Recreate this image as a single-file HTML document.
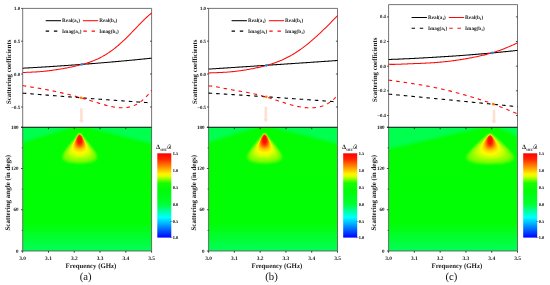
<!DOCTYPE html>
<html lang="en"><head><meta charset="utf-8"><title>Scattering coefficients and spin Hall shift</title>
<style>html,body{margin:0;padding:0;background:#fff}svg{display:block}text{font-family:"Liberation Serif", serif;text-rendering:geometricPrecision}</style></head><body>
<svg width="550" height="285" viewBox="0 0 550 285">
<defs>
<linearGradient id="cb" x1="0" y1="0" x2="0" y2="1"><stop offset="0" stop-color="#ff0000"/><stop offset="0.07" stop-color="#ff2400"/><stop offset="0.15" stop-color="#ff8000"/><stop offset="0.245" stop-color="#fff400"/><stop offset="0.275" stop-color="#dcff00"/><stop offset="0.355" stop-color="#14ff00"/><stop offset="0.45" stop-color="#00fb0a"/><stop offset="0.60" stop-color="#00ff30"/><stop offset="0.76" stop-color="#00ffff"/><stop offset="1" stop-color="#0000ff"/></linearGradient>
<linearGradient id="bg" x1="0" y1="0" x2="0" y2="1"><stop offset="0" stop-color="#03fe02"/><stop offset="0.77" stop-color="#02fe04"/><stop offset="1" stop-color="#00ff58"/></linearGradient>
<filter id="bl2" x="-20%" y="-20%" width="140%" height="140%"><feGaussianBlur stdDeviation="1.1"/></filter>
<filter id="bl3" x="-20%" y="-50%" width="140%" height="200%"><feGaussianBlur stdDeviation="1.7"/></filter>
<filter id="bl" x="-20%" y="-20%" width="140%" height="140%"><feGaussianBlur stdDeviation="0.55"/></filter>
</defs>
<rect width="550" height="285" fill="#fff"/>
<g>
<rect x="22.70" y="127.25" width="128.90" height="123.75" fill="url(#bg)"/>
<clipPath id="cp0"><rect x="22.70" y="127.25" width="128.90" height="123.75"/></clipPath>
<g clip-path="url(#cp0)">
<g filter="url(#bl3)" fill="#00ff58" opacity="0.9"><polygon points="16.7,123.2 72.7,123.2 70.7,127.8 16.7,144.2"/><polygon points="86.7,123.2 157.6,123.2 157.6,145.2 88.7,127.8"/></g>
<g filter="url(#bl)">
<polygon fill="rgb(78,254,3)" filter="url(#bl2)" points="79.7,133.1 78.6,134.8 77.3,136.4 76.0,138.0 74.8,139.6 73.5,141.1 72.2,142.6 71.0,144.1 69.8,145.6 68.6,147.0 67.5,148.3 66.4,149.6 65.4,150.9 64.4,152.1 63.6,153.3 63.0,154.5 62.5,155.6 62.2,156.6 62.1,157.6 62.3,158.6 62.8,159.5 63.6,160.3 64.8,161.1 66.4,161.8 68.4,162.4 71.0,162.9 74.4,163.3 79.7,163.5 85.0,163.3 88.4,162.9 91.0,162.4 93.0,161.8 94.6,161.1 95.8,160.3 96.6,159.5 97.1,158.6 97.3,157.6 97.2,156.6 96.9,155.6 96.4,154.5 95.8,153.3 95.0,152.1 94.0,150.9 93.0,149.6 91.9,148.3 90.8,147.0 89.6,145.6 88.4,144.1 87.2,142.6 85.9,141.1 84.6,139.6 83.4,138.0 82.1,136.4 80.8,134.8"/>
<polygon fill="rgb(117,254,4)" filter="url(#bl2)" points="79.7,133.2 78.6,134.8 77.4,136.4 76.2,137.9 75.0,139.4 73.8,140.9 72.7,142.3 71.5,143.7 70.4,145.1 69.3,146.4 68.3,147.7 67.3,149.0 66.4,150.2 65.6,151.4 64.9,152.5 64.3,153.6 63.9,154.6 63.7,155.7 63.6,156.6 63.9,157.5 64.3,158.4 65.1,159.1 66.2,159.9 67.7,160.5 69.6,161.1 71.9,161.6 74.9,162.0 79.7,162.2 84.5,162.0 87.5,161.6 89.8,161.1 91.7,160.5 93.2,159.9 94.3,159.1 95.1,158.4 95.5,157.5 95.8,156.6 95.7,155.7 95.5,154.6 95.1,153.6 94.5,152.5 93.8,151.4 93.0,150.2 92.1,149.0 91.1,147.7 90.1,146.4 89.0,145.1 87.9,143.7 86.7,142.3 85.6,140.9 84.4,139.4 83.2,137.9 82.0,136.4 80.8,134.8"/>
<polygon fill="rgb(141,254,3)" filter="url(#bl2)" points="79.7,133.3 78.6,134.8 77.5,136.3 76.4,137.8 75.3,139.2 74.2,140.6 73.1,142.0 72.1,143.3 71.0,144.6 70.1,145.9 69.1,147.1 68.3,148.3 67.5,149.5 66.8,150.6 66.2,151.7 65.7,152.7 65.3,153.7 65.2,154.7 65.2,155.6 65.4,156.4 65.9,157.2 66.6,158.0 67.7,158.7 69.0,159.3 70.7,159.8 72.8,160.3 75.5,160.7 79.7,160.9 83.9,160.7 86.6,160.3 88.7,159.8 90.4,159.3 91.7,158.7 92.8,158.0 93.5,157.2 94.0,156.4 94.2,155.6 94.2,154.7 94.1,153.7 93.7,152.7 93.2,151.7 92.6,150.6 91.9,149.5 91.1,148.3 90.3,147.1 89.3,145.9 88.4,144.6 87.3,143.3 86.3,142.0 85.2,140.6 84.1,139.2 83.0,137.8 81.9,136.3 80.8,134.8"/>
<polygon fill="rgb(165,255,2)" filter="url(#bl2)" points="79.7,133.4 78.7,134.9 77.6,136.3 76.6,137.7 75.6,139.0 74.6,140.3 73.6,141.6 72.7,142.9 71.7,144.1 70.9,145.3 70.0,146.5 69.3,147.6 68.6,148.7 68.0,149.8 67.5,150.8 67.1,151.8 66.8,152.8 66.7,153.7 66.8,154.5 67.0,155.3 67.5,156.1 68.1,156.8 69.1,157.5 70.3,158.0 71.8,158.6 73.7,159.0 76.0,159.3 79.7,159.5 83.4,159.3 85.7,159.0 87.6,158.6 89.1,158.0 90.3,157.5 91.3,156.8 91.9,156.1 92.4,155.3 92.6,154.5 92.7,153.7 92.6,152.8 92.3,151.8 91.9,150.8 91.4,149.8 90.8,148.7 90.1,147.6 89.4,146.5 88.5,145.3 87.7,144.1 86.7,142.9 85.8,141.6 84.8,140.3 83.8,139.0 82.8,137.7 81.8,136.3 80.7,134.9"/>
<polygon fill="rgb(189,255,1)" points="79.7,133.6 78.7,134.9 77.7,136.3 76.8,137.6 75.9,138.8 75.0,140.1 74.1,141.3 73.3,142.5 72.5,143.7 71.7,144.8 71.0,145.9 70.3,147.0 69.7,148.0 69.2,149.0 68.8,150.0 68.5,150.9 68.3,151.8 68.2,152.7 68.3,153.5 68.6,154.2 69.0,155.0 69.6,155.6 70.5,156.2 71.5,156.8 72.8,157.3 74.5,157.7 76.5,158.0 79.7,158.2 82.9,158.0 84.9,157.7 86.6,157.3 87.9,156.8 88.9,156.2 89.8,155.6 90.4,155.0 90.8,154.2 91.1,153.5 91.2,152.7 91.1,151.8 90.9,150.9 90.6,150.0 90.2,149.0 89.7,148.0 89.1,147.0 88.4,145.9 87.7,144.8 86.9,143.7 86.1,142.5 85.3,141.3 84.4,140.1 83.5,138.8 82.6,137.6 81.7,136.3 80.7,134.9"/>
<polygon fill="rgb(213,255,0)" points="79.7,133.7 78.8,135.0 77.9,136.2 77.1,137.4 76.2,138.6 75.4,139.8 74.7,141.0 73.9,142.1 73.2,143.2 72.6,144.3 72.0,145.3 71.4,146.3 70.9,147.3 70.5,148.2 70.2,149.1 69.9,150.0 69.8,150.9 69.8,151.7 69.9,152.4 70.1,153.1 70.5,153.8 71.1,154.5 71.8,155.0 72.7,155.6 73.9,156.0 75.3,156.4 77.0,156.7 79.7,156.9 82.4,156.7 84.1,156.4 85.5,156.0 86.7,155.6 87.6,155.0 88.3,154.5 88.9,153.8 89.3,153.1 89.5,152.4 89.6,151.7 89.6,150.9 89.5,150.0 89.2,149.1 88.9,148.2 88.5,147.3 88.0,146.3 87.4,145.3 86.8,144.3 86.2,143.2 85.5,142.1 84.7,141.0 84.0,139.8 83.2,138.6 82.3,137.4 81.5,136.2 80.6,135.0"/>
<polygon fill="rgb(226,254,0)" points="79.7,133.8 78.9,135.0 78.1,136.2 77.3,137.3 76.6,138.4 75.9,139.6 75.3,140.6 74.7,141.7 74.1,142.7 73.5,143.7 73.0,144.7 72.6,145.6 72.2,146.6 71.8,147.4 71.6,148.3 71.4,149.1 71.3,149.9 71.3,150.7 71.4,151.4 71.7,152.1 72.0,152.7 72.5,153.3 73.1,153.8 73.9,154.3 74.9,154.8 76.0,155.1 77.5,155.4 79.7,155.6 81.9,155.4 83.4,155.1 84.5,154.8 85.5,154.3 86.3,153.8 86.9,153.3 87.4,152.7 87.7,152.1 88.0,151.4 88.1,150.7 88.1,149.9 88.0,149.1 87.8,148.3 87.6,147.4 87.2,146.6 86.8,145.6 86.4,144.7 85.9,143.7 85.3,142.7 84.7,141.7 84.1,140.6 83.5,139.6 82.8,138.4 82.1,137.3 81.3,136.2 80.5,135.0"/>
<polygon fill="rgb(238,252,0)" points="79.7,133.9 78.8,135.0 78.1,136.1 77.4,137.2 76.7,138.3 76.0,139.4 75.4,140.4 74.8,141.4 74.3,142.4 73.8,143.4 73.3,144.3 72.9,145.2 72.5,146.1 72.2,146.9 72.0,147.8 71.9,148.5 71.8,149.3 71.8,150.0 72.0,150.7 72.2,151.4 72.5,152.0 73.0,152.5 73.6,153.1 74.3,153.5 75.2,154.0 76.3,154.3 77.6,154.6 79.7,154.7 81.8,154.6 83.1,154.3 84.2,154.0 85.1,153.5 85.8,153.1 86.4,152.5 86.9,152.0 87.2,151.4 87.4,150.7 87.6,150.0 87.6,149.3 87.5,148.5 87.4,147.8 87.2,146.9 86.9,146.1 86.5,145.2 86.1,144.3 85.6,143.4 85.1,142.4 84.6,141.4 84.0,140.4 83.4,139.4 82.7,138.3 82.0,137.2 81.3,136.1 80.6,135.0"/>
<polygon fill="rgb(249,251,0)" points="79.7,133.9 78.8,135.0 78.1,136.1 77.4,137.2 76.7,138.2 76.1,139.2 75.5,140.2 74.9,141.2 74.4,142.1 73.9,143.0 73.5,143.9 73.1,144.8 72.8,145.6 72.6,146.5 72.4,147.2 72.2,148.0 72.2,148.7 72.3,149.4 72.4,150.1 72.6,150.7 73.0,151.3 73.4,151.8 74.0,152.3 74.7,152.8 75.5,153.2 76.5,153.5 77.8,153.8 79.7,153.9 81.6,153.8 82.9,153.5 83.9,153.2 84.7,152.8 85.4,152.3 86.0,151.8 86.4,151.3 86.8,150.7 87.0,150.1 87.1,149.4 87.2,148.7 87.2,148.0 87.0,147.2 86.8,146.5 86.6,145.6 86.3,144.8 85.9,143.9 85.5,143.0 85.0,142.1 84.5,141.2 83.9,140.2 83.3,139.2 82.7,138.2 82.0,137.2 81.3,136.1 80.6,135.0"/>
<polygon fill="rgb(255,244,0)" points="79.7,134.0 78.8,135.1 78.1,136.1 77.4,137.1 76.8,138.1 76.2,139.1 75.6,140.0 75.1,140.9 74.6,141.8 74.2,142.7 73.8,143.6 73.4,144.4 73.1,145.2 72.9,146.0 72.7,146.7 72.6,147.4 72.6,148.1 72.7,148.8 72.8,149.4 73.1,150.0 73.4,150.6 73.8,151.1 74.4,151.6 75.0,152.0 75.8,152.4 76.8,152.7 77.9,153.0 79.7,153.1 81.5,153.0 82.6,152.7 83.6,152.4 84.4,152.0 85.0,151.6 85.6,151.1 86.0,150.6 86.3,150.0 86.6,149.4 86.7,148.8 86.8,148.1 86.8,147.4 86.7,146.7 86.5,146.0 86.3,145.2 86.0,144.4 85.6,143.6 85.2,142.7 84.8,141.8 84.3,140.9 83.8,140.0 83.2,139.1 82.6,138.1 82.0,137.1 81.3,136.1 80.6,135.1"/>
<polygon fill="rgb(255,232,0)" points="79.7,134.1 78.8,135.1 78.1,136.1 77.4,137.0 76.8,138.0 76.3,138.9 75.7,139.8 75.2,140.7 74.8,141.5 74.4,142.4 74.0,143.2 73.7,144.0 73.4,144.7 73.2,145.5 73.1,146.2 73.0,146.9 73.0,147.6 73.1,148.2 73.3,148.8 73.5,149.4 73.8,149.9 74.2,150.4 74.8,150.8 75.4,151.3 76.1,151.6 77.0,151.9 78.1,152.2 79.7,152.3 81.3,152.2 82.4,151.9 83.3,151.6 84.0,151.3 84.6,150.8 85.2,150.4 85.6,149.9 85.9,149.4 86.1,148.8 86.3,148.2 86.4,147.6 86.4,146.9 86.3,146.2 86.2,145.5 86.0,144.7 85.7,144.0 85.4,143.2 85.0,142.4 84.6,141.5 84.2,140.7 83.7,139.8 83.1,138.9 82.6,138.0 82.0,137.0 81.3,136.1 80.6,135.1"/>
<polygon fill="rgb(255,221,0)" points="79.7,134.1 78.8,135.1 78.1,136.0 77.5,136.9 76.9,137.8 76.3,138.7 75.8,139.6 75.4,140.4 75.0,141.2 74.6,142.0 74.3,142.8 74.0,143.6 73.8,144.3 73.6,145.0 73.5,145.7 73.4,146.3 73.5,147.0 73.6,147.6 73.7,148.1 73.9,148.7 74.3,149.2 74.7,149.7 75.1,150.1 75.7,150.5 76.4,150.8 77.2,151.1 78.2,151.4 79.7,151.5 81.2,151.4 82.2,151.1 83.0,150.8 83.7,150.5 84.3,150.1 84.7,149.7 85.1,149.2 85.5,148.7 85.7,148.1 85.8,147.6 85.9,147.0 86.0,146.3 85.9,145.7 85.8,145.0 85.6,144.3 85.4,143.6 85.1,142.8 84.8,142.0 84.4,141.2 84.0,140.4 83.6,139.6 83.1,138.7 82.5,137.8 81.9,136.9 81.3,136.0 80.6,135.1"/>
<polygon fill="rgb(255,210,0)" points="79.7,134.2 78.8,135.1 78.1,136.0 77.5,136.9 77.0,137.7 76.4,138.6 76.0,139.4 75.6,140.2 75.2,141.0 74.8,141.7 74.5,142.4 74.3,143.2 74.1,143.9 74.0,144.5 73.9,145.2 73.9,145.8 73.9,146.4 74.0,147.0 74.2,147.5 74.4,148.0 74.7,148.5 75.1,148.9 75.5,149.4 76.0,149.7 76.7,150.1 77.4,150.3 78.3,150.6 79.7,150.7 81.1,150.6 82.0,150.3 82.7,150.1 83.4,149.7 83.9,149.4 84.3,148.9 84.7,148.5 85.0,148.0 85.2,147.5 85.4,147.0 85.5,146.4 85.5,145.8 85.5,145.2 85.4,144.5 85.3,143.9 85.1,143.2 84.9,142.4 84.6,141.7 84.2,141.0 83.8,140.2 83.4,139.4 83.0,138.6 82.4,137.7 81.9,136.9 81.3,136.0 80.6,135.1"/>
<polygon fill="rgb(255,197,0)" points="79.7,134.3 78.8,135.1 78.1,136.0 77.6,136.8 77.0,137.6 76.6,138.4 76.1,139.2 75.7,139.9 75.4,140.7 75.1,141.4 74.8,142.1 74.6,142.8 74.4,143.4 74.3,144.0 74.3,144.7 74.3,145.2 74.3,145.8 74.4,146.3 74.6,146.9 74.8,147.3 75.1,147.8 75.4,148.2 75.9,148.6 76.4,149.0 76.9,149.3 77.6,149.5 78.4,149.7 79.7,149.9 81.0,149.7 81.8,149.5 82.5,149.3 83.0,149.0 83.5,148.6 84.0,148.2 84.3,147.8 84.6,147.3 84.8,146.9 85.0,146.3 85.1,145.8 85.1,145.2 85.1,144.7 85.1,144.0 85.0,143.4 84.8,142.8 84.6,142.1 84.3,141.4 84.0,140.7 83.7,139.9 83.3,139.2 82.8,138.4 82.4,137.6 81.8,136.8 81.3,136.0 80.6,135.1"/>
<polygon fill="rgb(255,176,0)" points="79.7,134.4 78.8,135.2 78.2,136.0 77.6,136.8 77.1,137.5 76.7,138.3 76.3,139.0 75.9,139.7 75.6,140.4 75.3,141.1 75.1,141.7 74.9,142.4 74.8,143.0 74.7,143.6 74.7,144.2 74.7,144.7 74.7,145.3 74.8,145.8 75.0,146.3 75.2,146.7 75.5,147.2 75.8,147.6 76.2,147.9 76.7,148.3 77.2,148.6 77.8,148.8 78.6,149.0 79.7,149.1 80.8,149.0 81.6,148.8 82.2,148.6 82.7,148.3 83.2,147.9 83.6,147.6 83.9,147.2 84.2,146.7 84.4,146.3 84.6,145.8 84.7,145.3 84.7,144.7 84.7,144.2 84.7,143.6 84.6,143.0 84.5,142.4 84.3,141.7 84.1,141.1 83.8,140.4 83.5,139.7 83.1,139.0 82.7,138.3 82.3,137.5 81.8,136.8 81.2,136.0 80.6,135.2"/>
<polygon fill="rgb(255,155,0)" points="79.7,134.4 78.8,135.2 78.2,136.0 77.7,136.7 77.2,137.4 76.8,138.1 76.4,138.8 76.1,139.5 75.8,140.2 75.6,140.8 75.4,141.4 75.3,142.0 75.1,142.6 75.1,143.2 75.0,143.7 75.1,144.3 75.1,144.8 75.2,145.3 75.4,145.7 75.6,146.2 75.9,146.6 76.2,146.9 76.5,147.3 76.9,147.6 77.4,147.9 78.0,148.1 78.7,148.3 79.7,148.4 80.7,148.3 81.4,148.1 82.0,147.9 82.5,147.6 82.9,147.3 83.2,146.9 83.5,146.6 83.8,146.2 84.0,145.7 84.2,145.3 84.3,144.8 84.3,144.3 84.4,143.7 84.3,143.2 84.3,142.6 84.1,142.0 84.0,141.4 83.8,140.8 83.6,140.2 83.3,139.5 83.0,138.8 82.6,138.1 82.2,137.4 81.7,136.7 81.2,136.0 80.6,135.2"/>
<polygon fill="rgb(255,135,0)" points="79.7,134.5 78.8,135.3 78.2,136.0 77.7,136.7 77.3,137.4 76.9,138.0 76.6,138.7 76.3,139.3 76.1,139.9 75.9,140.5 75.7,141.1 75.6,141.7 75.5,142.2 75.4,142.8 75.4,143.3 75.5,143.8 75.5,144.3 75.6,144.7 75.8,145.2 76.0,145.6 76.2,146.0 76.5,146.3 76.8,146.7 77.2,146.9 77.7,147.2 78.2,147.4 78.8,147.6 79.7,147.7 80.6,147.6 81.2,147.4 81.7,147.2 82.2,146.9 82.6,146.7 82.9,146.3 83.2,146.0 83.4,145.6 83.6,145.2 83.8,144.7 83.9,144.3 83.9,143.8 84.0,143.3 84.0,142.8 83.9,142.2 83.8,141.7 83.7,141.1 83.5,140.5 83.3,139.9 83.1,139.3 82.8,138.7 82.5,138.0 82.1,137.4 81.7,136.7 81.2,136.0 80.6,135.3"/>
<polygon fill="rgb(255,113,0)" points="79.7,134.6 78.8,135.3 78.3,136.0 77.8,136.6 77.4,137.3 77.1,137.9 76.8,138.5 76.6,139.1 76.3,139.7 76.2,140.3 76.0,140.8 75.9,141.4 75.8,141.9 75.8,142.4 75.8,142.9 75.9,143.3 75.9,143.8 76.0,144.2 76.2,144.6 76.4,145.0 76.6,145.4 76.8,145.7 77.1,146.0 77.5,146.3 77.9,146.5 78.3,146.7 78.9,146.9 79.7,147.0 80.5,146.9 81.1,146.7 81.5,146.5 81.9,146.3 82.3,146.0 82.6,145.7 82.8,145.4 83.0,145.0 83.2,144.6 83.4,144.2 83.5,143.8 83.5,143.3 83.6,142.9 83.6,142.4 83.6,141.9 83.5,141.4 83.4,140.8 83.2,140.3 83.1,139.7 82.8,139.1 82.6,138.5 82.3,137.9 82.0,137.3 81.6,136.6 81.1,136.0 80.6,135.3"/>
<polygon fill="rgb(255,91,0)" points="79.7,134.7 78.8,135.4 78.3,136.0 77.9,136.6 77.6,137.2 77.3,137.8 77.0,138.3 76.8,138.9 76.6,139.5 76.5,140.0 76.4,140.5 76.3,141.0 76.2,141.5 76.2,142.0 76.2,142.4 76.2,142.9 76.3,143.3 76.4,143.7 76.6,144.1 76.7,144.4 76.9,144.8 77.2,145.1 77.4,145.4 77.7,145.6 78.1,145.9 78.5,146.1 79.0,146.2 79.7,146.3 80.4,146.2 80.9,146.1 81.3,145.9 81.7,145.6 82.0,145.4 82.2,145.1 82.5,144.8 82.7,144.4 82.8,144.1 83.0,143.7 83.1,143.3 83.2,142.9 83.2,142.4 83.2,142.0 83.2,141.5 83.1,141.0 83.0,140.5 82.9,140.0 82.8,139.5 82.6,138.9 82.4,138.3 82.1,137.8 81.8,137.2 81.5,136.6 81.1,136.0 80.6,135.4"/>
<polygon fill="rgb(255,69,0)" points="79.7,134.8 78.9,135.4 78.4,136.0 78.0,136.5 77.7,137.1 77.5,137.7 77.2,138.2 77.1,138.7 76.9,139.2 76.8,139.7 76.7,140.2 76.6,140.7 76.6,141.1 76.6,141.6 76.6,142.0 76.6,142.4 76.7,142.8 76.8,143.1 76.9,143.5 77.1,143.8 77.3,144.2 77.5,144.4 77.7,144.7 78.0,145.0 78.3,145.2 78.6,145.4 79.1,145.5 79.7,145.6 80.3,145.5 80.8,145.4 81.1,145.2 81.4,145.0 81.7,144.7 81.9,144.4 82.1,144.2 82.3,143.8 82.5,143.5 82.6,143.1 82.7,142.8 82.8,142.4 82.8,142.0 82.8,141.6 82.8,141.1 82.8,140.7 82.7,140.2 82.6,139.7 82.5,139.2 82.3,138.7 82.2,138.2 81.9,137.7 81.7,137.1 81.4,136.5 81.0,136.0 80.5,135.4"/>
<polygon fill="rgb(255,47,0)" points="79.7,134.9 78.9,135.4 78.5,136.0 78.1,136.5 77.9,137.0 77.7,137.5 77.5,138.0 77.3,138.5 77.2,139.0 77.1,139.4 77.0,139.9 77.0,140.3 77.0,140.7 77.0,141.1 77.0,141.5 77.0,141.9 77.1,142.3 77.2,142.6 77.3,142.9 77.4,143.3 77.6,143.6 77.8,143.8 78.0,144.1 78.2,144.3 78.5,144.5 78.8,144.7 79.2,144.8 79.7,144.9 80.2,144.8 80.6,144.7 80.9,144.5 81.2,144.3 81.4,144.1 81.6,143.8 81.8,143.6 82.0,143.3 82.1,142.9 82.2,142.6 82.3,142.3 82.4,141.9 82.4,141.5 82.4,141.1 82.4,140.7 82.4,140.3 82.4,139.9 82.3,139.4 82.2,139.0 82.1,138.5 81.9,138.0 81.7,137.5 81.5,137.0 81.3,136.5 80.9,136.0 80.5,135.4"/>
<polygon fill="rgb(255,32,0)" points="79.7,135.3 79.0,135.8 78.6,136.2 78.3,136.7 78.1,137.2 77.9,137.6 77.8,138.0 77.7,138.5 77.6,138.9 77.5,139.3 77.4,139.7 77.4,140.0 77.4,140.4 77.4,140.8 77.4,141.1 77.4,141.5 77.5,141.8 77.6,142.1 77.7,142.4 77.8,142.6 77.9,142.9 78.1,143.1 78.3,143.4 78.5,143.6 78.7,143.7 78.9,143.9 79.2,144.0 79.7,144.1 80.2,144.0 80.5,143.9 80.7,143.7 80.9,143.6 81.1,143.4 81.3,143.1 81.5,142.9 81.6,142.6 81.7,142.4 81.8,142.1 81.9,141.8 82.0,141.5 82.0,141.1 82.0,140.8 82.0,140.4 82.0,140.0 82.0,139.7 81.9,139.3 81.8,138.9 81.7,138.5 81.6,138.0 81.5,137.6 81.3,137.2 81.1,136.7 80.8,136.2 80.4,135.8"/>
<polygon fill="rgb(255,17,0)" points="79.7,135.7 79.1,136.1 78.8,136.5 78.6,136.9 78.4,137.3 78.2,137.7 78.1,138.1 78.0,138.4 77.9,138.8 77.9,139.1 77.8,139.5 77.8,139.8 77.8,140.1 77.8,140.4 77.8,140.7 77.9,141.0 77.9,141.3 78.0,141.5 78.1,141.8 78.2,142.0 78.3,142.2 78.4,142.4 78.5,142.6 78.7,142.8 78.9,142.9 79.1,143.1 79.3,143.2 79.7,143.2 80.1,143.2 80.3,143.1 80.5,142.9 80.7,142.8 80.9,142.6 81.0,142.4 81.1,142.2 81.2,142.0 81.3,141.8 81.4,141.5 81.5,141.3 81.5,141.0 81.6,140.7 81.6,140.4 81.6,140.1 81.6,139.8 81.6,139.5 81.5,139.1 81.5,138.8 81.4,138.4 81.3,138.1 81.2,137.7 81.0,137.3 80.8,136.9 80.6,136.5 80.3,136.1"/>
<polygon fill="rgb(255,10,0)" points="79.7,136.1 79.2,136.4 79.0,136.8 78.8,137.1 78.6,137.4 78.5,137.8 78.4,138.1 78.3,138.4 78.3,138.7 78.2,139.0 78.2,139.3 78.2,139.5 78.2,139.8 78.2,140.0 78.2,140.3 78.3,140.5 78.3,140.8 78.4,141.0 78.4,141.2 78.5,141.4 78.6,141.6 78.7,141.7 78.8,141.9 78.9,142.0 79.1,142.2 79.2,142.3 79.4,142.4 79.7,142.4 80.0,142.4 80.2,142.3 80.3,142.2 80.5,142.0 80.6,141.9 80.7,141.7 80.8,141.6 80.9,141.4 81.0,141.2 81.0,141.0 81.1,140.8 81.1,140.5 81.2,140.3 81.2,140.0 81.2,139.8 81.2,139.5 81.2,139.3 81.2,139.0 81.1,138.7 81.1,138.4 81.0,138.1 80.9,137.8 80.8,137.4 80.6,137.1 80.4,136.8 80.2,136.4"/>
</g></g>
<g fill="none" stroke="#505050" stroke-width="0.8">
<path d="M22.70 8.40 V251.00 H151.60 V8.40 Z"/>
</g>
<path d="M21.10 127.25 H151.60" stroke="#111" stroke-width="1.1" fill="none"/>
<path d="M22.70 8.40 h-1.6 M22.70 41.20 h-1.6 M151.60 41.20 h-1.6 M22.70 74.00 h-1.6 M151.60 74.00 h-1.6 M22.70 107.00 h-1.6 M151.60 107.00 h-1.6 M22.70 127.25 h-1.7 M22.70 147.88 h-1.0 M22.70 168.50 h-1.7 M22.70 189.12 h-1.0 M22.70 209.75 h-1.7 M22.70 230.38 h-1.0 M22.70 251.00 h-1.7 M22.70 251.00 v1.8 M48.48 251.00 v1.8 M48.48 127.25 v2.0 M74.26 251.00 v1.8 M74.26 127.25 v2.0 M100.04 251.00 v1.8 M100.04 127.25 v2.0 M125.82 251.00 v1.8 M125.82 127.25 v2.0 M151.60 251.00 v1.8" stroke="#222" stroke-width="0.8" fill="none"/>
<g font-size="4.8" font-weight="bold" fill="#111" text-anchor="end">
<text x="20.10" y="9.90">1.0</text>
<text x="20.10" y="42.70">0.5</text>
<text x="20.10" y="75.50">0.0</text>
<text x="20.10" y="108.50">−0.5</text>
<text x="18.50" y="128.85" font-size="5.0">180</text>
<text x="18.50" y="170.10" font-size="5.0">120</text>
<text x="18.50" y="211.35" font-size="5.0">60</text>
<text x="18.50" y="252.60" font-size="5.0">0</text>
</g>
<g font-size="5.4" font-weight="bold" fill="#111" text-anchor="middle">
<text x="22.70" y="259.70">3.0</text>
<text x="48.48" y="259.70">3.1</text>
<text x="74.26" y="259.70">3.2</text>
<text x="100.04" y="259.70">3.3</text>
<text x="125.82" y="259.70">3.4</text>
<text x="151.60" y="259.70">3.5</text>
</g>
<text font-size="6.8" font-weight="bold" fill="#1a1a1a" text-anchor="middle" x="90.95" y="268.10">Frequency (GHz)</text>
<text font-size="6.85" font-weight="bold" fill="#1a1a1a" text-anchor="middle" transform="translate(11.30 71.90) rotate(-90)">Scattering coefficients</text>
<text font-size="7.0" font-weight="bold" fill="#1a1a1a" text-anchor="middle" transform="translate(9.70 192.80) rotate(-90)">Scattering angle (in degs)</text>
<text font-size="10.7" fill="#111" text-anchor="middle" x="85.60" y="280.00">(a)</text>
<polyline fill="none" stroke="#000" stroke-width="1.05" points="22.70,68.20 23.70,68.15 24.70,68.09 25.70,68.04 26.70,67.98 27.70,67.93 28.70,67.87 29.70,67.82 30.70,67.76 31.70,67.70 32.70,67.65 33.70,67.59 34.70,67.53 35.70,67.47 36.70,67.41 37.70,67.35 38.70,67.30 39.70,67.24 40.70,67.18 41.70,67.11 42.70,67.05 43.70,66.99 44.70,66.93 45.70,66.87 46.70,66.81 47.70,66.74 48.70,66.68 49.70,66.62 50.70,66.55 51.70,66.49 52.70,66.42 53.70,66.36 54.70,66.29 55.70,66.23 56.70,66.16 57.70,66.09 58.70,66.03 59.70,65.96 60.70,65.89 61.70,65.82 62.70,65.76 63.70,65.69 64.70,65.62 65.70,65.55 66.70,65.48 67.70,65.41 68.70,65.34 69.70,65.27 70.70,65.20 71.70,65.13 72.70,65.06 73.70,64.98 74.70,64.91 75.70,64.84 76.70,64.77 77.70,64.69 78.70,64.62 79.70,64.55 80.70,64.47 81.70,64.40 82.70,64.33 83.70,64.25 84.70,64.18 85.70,64.10 86.70,64.02 87.70,63.95 88.70,63.87 89.70,63.79 90.70,63.71 91.70,63.63 92.70,63.56 93.70,63.48 94.70,63.40 95.70,63.32 96.70,63.24 97.70,63.16 98.70,63.07 99.70,62.99 100.70,62.91 101.70,62.83 102.70,62.74 103.70,62.66 104.70,62.58 105.70,62.49 106.70,62.41 107.70,62.32 108.70,62.24 109.70,62.15 110.70,62.06 111.70,61.98 112.70,61.89 113.70,61.80 114.70,61.71 115.70,61.63 116.70,61.54 117.70,61.45 118.70,61.36 119.70,61.27 120.70,61.18 121.70,61.09 122.70,61.00 123.70,60.90 124.70,60.81 125.70,60.72 126.70,60.63 127.70,60.53 128.70,60.44 129.70,60.35 130.70,60.25 131.70,60.16 132.70,60.06 133.70,59.97 134.70,59.87 135.70,59.78 136.70,59.68 137.70,59.58 138.70,59.49 139.70,59.39 140.70,59.29 141.70,59.19 142.70,59.09 143.70,58.99 144.70,58.89 145.70,58.80 146.70,58.70 147.70,58.59 148.70,58.49 149.70,58.39 150.70,58.29 151.60,58.29"/>
<polyline fill="none" stroke="#ff0808" stroke-width="1.05" points="22.70,72.59 23.70,72.52 24.70,72.46 25.70,72.40 26.70,72.35 27.70,72.31 28.70,72.27 29.70,72.22 30.70,72.18 31.70,72.14 32.70,72.09 33.70,72.05 34.70,72.00 35.70,71.94 36.70,71.88 37.70,71.82 38.70,71.75 39.70,71.67 40.70,71.60 41.70,71.51 42.70,71.42 43.70,71.32 44.70,71.22 45.70,71.12 46.70,71.01 47.70,70.89 48.70,70.77 49.70,70.64 50.70,70.51 51.70,70.38 52.70,70.24 53.70,70.09 54.70,69.95 55.70,69.80 56.70,69.64 57.70,69.48 58.70,69.32 59.70,69.16 60.70,68.99 61.70,68.82 62.70,68.65 63.70,68.47 64.70,68.29 65.70,68.11 66.70,67.92 67.70,67.73 68.70,67.54 69.70,67.34 70.70,67.14 71.70,66.93 72.70,66.72 73.70,66.51 74.70,66.29 75.70,66.07 76.70,65.84 77.70,65.60 78.70,65.36 79.70,65.11 80.70,64.85 81.70,64.59 82.70,64.32 83.70,64.04 84.70,63.75 85.70,63.45 86.70,63.14 87.70,62.82 88.70,62.48 89.70,62.14 90.70,61.78 91.70,61.41 92.70,61.03 93.70,60.63 94.70,60.22 95.70,59.80 96.70,59.35 97.70,58.90 98.70,58.42 99.70,57.93 100.70,57.42 101.70,56.89 102.70,56.35 103.70,55.78 104.70,55.20 105.70,54.60 106.70,53.98 107.70,53.34 108.70,52.68 109.70,52.00 110.70,51.30 111.70,50.58 112.70,49.84 113.70,49.08 114.70,48.30 115.70,47.50 116.70,46.68 117.70,45.85 118.70,44.99 119.70,44.12 120.70,43.23 121.70,42.32 122.70,41.40 123.70,40.46 124.70,39.51 125.70,38.54 126.70,37.56 127.70,36.57 128.70,35.56 129.70,34.55 130.70,33.53 131.70,32.50 132.70,31.46 133.70,30.42 134.70,29.38 135.70,28.34 136.70,27.29 137.70,26.25 138.70,25.21 139.70,24.18 140.70,23.15 141.70,22.13 142.70,21.13 143.70,20.13 144.70,19.16 145.70,18.19 146.70,17.25 147.70,16.33 148.70,15.44 149.70,14.57 150.70,13.73 151.60,13.00"/>
<polyline fill="none" stroke="#000" stroke-width="1.1" stroke-dasharray="3.6 4" points="22.70,93.10 23.70,93.18 24.70,93.27 25.70,93.35 26.70,93.44 27.70,93.52 28.70,93.60 29.70,93.69 30.70,93.77 31.70,93.85 32.70,93.94 33.70,94.02 34.70,94.10 35.70,94.18 36.70,94.27 37.70,94.35 38.70,94.43 39.70,94.51 40.70,94.60 41.70,94.68 42.70,94.76 43.70,94.84 44.70,94.92 45.70,95.01 46.70,95.09 47.70,95.17 48.70,95.25 49.70,95.33 50.70,95.41 51.70,95.49 52.70,95.57 53.70,95.65 54.70,95.73 55.70,95.81 56.70,95.89 57.70,95.97 58.70,96.05 59.70,96.13 60.70,96.21 61.70,96.29 62.70,96.37 63.70,96.45 64.70,96.53 65.70,96.61 66.70,96.68 67.70,96.76 68.70,96.84 69.70,96.92 70.70,97.00 71.70,97.08 72.70,97.15 73.70,97.23 74.70,97.31 75.70,97.39 76.70,97.46 77.70,97.54 78.70,97.62 79.70,97.69 80.70,97.77 81.70,97.85 82.70,97.92 83.70,98.00 84.70,98.07 85.70,98.15 86.70,98.23 87.70,98.30 88.70,98.38 89.70,98.45 90.70,98.53 91.70,98.60 92.70,98.68 93.70,98.75 94.70,98.83 95.70,98.90 96.70,98.98 97.70,99.05 98.70,99.13 99.70,99.20 100.70,99.28 101.70,99.35 102.70,99.42 103.70,99.50 104.70,99.57 105.70,99.65 106.70,99.72 107.70,99.79 108.70,99.87 109.70,99.94 110.70,100.01 111.70,100.09 112.70,100.16 113.70,100.23 114.70,100.30 115.70,100.38 116.70,100.45 117.70,100.52 118.70,100.59 119.70,100.67 120.70,100.74 121.70,100.81 122.70,100.88 123.70,100.95 124.70,101.03 125.70,101.10 126.70,101.17 127.70,101.24 128.70,101.31 129.70,101.38 130.70,101.45 131.70,101.52 132.70,101.59 133.70,101.66 134.70,101.73 135.70,101.80 136.70,101.87 137.70,101.94 138.70,102.01 139.70,102.08 140.70,102.15 141.70,102.22 142.70,102.29 143.70,102.36 144.70,102.43 145.70,102.50 146.70,102.57 147.70,102.63 148.70,102.70 149.70,102.77 150.70,102.84 151.60,102.84"/>
<polyline fill="none" stroke="#ff0808" stroke-width="1.1" stroke-dasharray="3.6 4" points="22.70,85.64 23.70,85.81 24.70,85.98 25.70,86.14 26.70,86.30 27.70,86.46 28.70,86.62 29.70,86.78 30.70,86.94 31.70,87.09 32.70,87.25 33.70,87.41 34.70,87.57 35.70,87.74 36.70,87.90 37.70,88.07 38.70,88.24 39.70,88.41 40.70,88.59 41.70,88.77 42.70,88.95 43.70,89.13 44.70,89.32 45.70,89.51 46.70,89.70 47.70,89.89 48.70,90.09 49.70,90.29 50.70,90.49 51.70,90.70 52.70,90.90 53.70,91.11 54.70,91.33 55.70,91.54 56.70,91.76 57.70,91.98 58.70,92.20 59.70,92.43 60.70,92.65 61.70,92.88 62.70,93.11 63.70,93.35 64.70,93.59 65.70,93.82 66.70,94.07 67.70,94.31 68.70,94.56 69.70,94.81 70.70,95.06 71.70,95.32 72.70,95.57 73.70,95.84 74.70,96.10 75.70,96.37 76.70,96.64 77.70,96.91 78.70,97.18 79.70,97.46 80.70,97.74 81.70,98.03 82.70,98.31 83.70,98.60 84.70,98.89 85.70,99.19 86.70,99.48 87.70,99.78 88.70,100.08 89.70,100.38 90.70,100.69 91.70,100.99 92.70,101.30 93.70,101.60 94.70,101.91 95.70,102.22 96.70,102.52 97.70,102.83 98.70,103.13 99.70,103.43 100.70,103.73 101.70,104.02 102.70,104.31 103.70,104.59 104.70,104.87 105.70,105.15 106.70,105.41 107.70,105.67 108.70,105.92 109.70,106.15 110.70,106.38 111.70,106.59 112.70,106.79 113.70,106.98 114.70,107.15 115.70,107.31 116.70,107.44 117.70,107.56 118.70,107.65 119.70,107.73 120.70,107.78 121.70,107.80 122.70,107.80 123.70,107.77 124.70,107.71 125.70,107.63 126.70,107.51 127.70,107.35 128.70,107.16 129.70,106.94 130.70,106.67 131.70,106.37 132.70,106.03 133.70,105.64 134.70,105.21 135.70,104.73 136.70,104.21 137.70,103.64 138.70,103.03 139.70,102.36 140.70,101.64 141.70,100.87 142.70,100.04 143.70,99.16 144.70,98.23 145.70,97.24 146.70,96.20 147.70,95.10 148.70,93.94 149.70,92.73 150.70,91.46 151.60,90.27"/>
<circle cx="81.70" cy="64.40" r="1.35" fill="#1e96e6"/>
<circle cx="81.10" cy="97.80" r="1.35" fill="#ff8000"/>
<path d="M80.10 108.30 h2.6 V119.90 h1.1 L81.40 123.30 L79.00 119.90 h1.1 Z" fill="#fde0d2"/>
<path d="M45.70 20.70 h15.3" stroke="#000" stroke-width="1.05"/>
<path d="M82.90 20.70 h15.3" stroke="#ff0808" stroke-width="1.05"/>
<path d="M45.70 31.10 h15.3" stroke="#000" stroke-width="1.1" stroke-dasharray="3.4 4.8"/>
<path d="M83.40 31.10 h15.3" stroke="#ff0808" stroke-width="1.1" stroke-dasharray="3.4 4.8"/>
<g font-size="5.2" font-weight="bold" fill="#222">
<text x="62.10" y="22.30">Real(a<tspan font-size="3.4" dy="1.0">1</tspan><tspan dy="-1.0">)</tspan></text>
<text x="99.20" y="22.30">Real(b<tspan font-size="3.4" dy="1.0">1</tspan><tspan dy="-1.0">)</tspan></text>
<text x="62.10" y="32.70">Imag(a<tspan font-size="3.4" dy="1.0">1</tspan><tspan dy="-1.0">)</tspan></text>
<text x="99.20" y="32.70">Imag(b<tspan font-size="3.4" dy="1.0">1</tspan><tspan dy="-1.0">)</tspan></text>
</g>
<rect x="157.30" y="153.3" width="14" height="84.3" fill="url(#cb)"/>
<g font-size="4.4" font-weight="bold" fill="#000">
<text x="178.30" y="154.90" text-anchor="end">1.5</text>
<text x="178.30" y="171.80" text-anchor="end">1.0</text>
<text x="178.30" y="188.70" text-anchor="end">0.5</text>
<text x="178.30" y="205.60" text-anchor="end">0.0</text>
<text x="178.30" y="222.50" text-anchor="end">−0.5</text>
<text x="178.30" y="239.40" text-anchor="end">−1.0</text>
</g>
<text x="156.00" y="149.0" font-size="6.6" font-weight="bold" fill="#222">Δ<tspan font-size="3.3" dy="1.9" fill="#333">SHE</tspan><tspan dy="-1.9">/</tspan><tspan font-style="italic">λ</tspan></text>
</g>
<g>
<rect x="208.60" y="127.25" width="128.90" height="123.75" fill="url(#bg)"/>
<clipPath id="cp1"><rect x="208.60" y="127.25" width="128.90" height="123.75"/></clipPath>
<g clip-path="url(#cp1)">
<g filter="url(#bl3)" fill="#00ff58" opacity="0.9"><polygon points="202.6,123.2 257.6,123.2 255.6,127.8 202.6,144.2"/><polygon points="271.6,123.2 343.5,123.2 343.5,145.2 273.6,127.8"/></g>
<g filter="url(#bl)">
<polygon fill="rgb(78,254,3)" filter="url(#bl2)" points="264.6,133.1 263.5,134.8 262.2,136.4 260.9,138.0 259.7,139.6 258.4,141.1 257.1,142.6 255.9,144.1 254.7,145.6 253.5,147.0 252.4,148.3 251.3,149.6 250.3,150.9 249.3,152.1 248.5,153.3 247.9,154.5 247.4,155.6 247.1,156.6 247.0,157.6 247.2,158.6 247.7,159.5 248.5,160.3 249.7,161.1 251.3,161.8 253.3,162.4 255.9,162.9 259.3,163.3 264.6,163.5 269.9,163.3 273.3,162.9 275.9,162.4 277.9,161.8 279.5,161.1 280.7,160.3 281.5,159.5 282.0,158.6 282.2,157.6 282.1,156.6 281.8,155.6 281.3,154.5 280.7,153.3 279.9,152.1 278.9,150.9 277.9,149.6 276.8,148.3 275.7,147.0 274.5,145.6 273.3,144.1 272.1,142.6 270.8,141.1 269.5,139.6 268.3,138.0 267.0,136.4 265.7,134.8"/>
<polygon fill="rgb(117,254,4)" filter="url(#bl2)" points="264.6,133.2 263.5,134.8 262.3,136.4 261.1,137.9 259.9,139.4 258.7,140.9 257.6,142.3 256.4,143.7 255.3,145.1 254.2,146.4 253.2,147.7 252.2,149.0 251.3,150.2 250.5,151.4 249.8,152.5 249.2,153.6 248.8,154.6 248.6,155.7 248.5,156.6 248.8,157.5 249.2,158.4 250.0,159.1 251.1,159.9 252.6,160.5 254.5,161.1 256.8,161.6 259.8,162.0 264.6,162.2 269.4,162.0 272.4,161.6 274.7,161.1 276.6,160.5 278.1,159.9 279.2,159.1 280.0,158.4 280.4,157.5 280.7,156.6 280.6,155.7 280.4,154.6 280.0,153.6 279.4,152.5 278.7,151.4 277.9,150.2 277.0,149.0 276.0,147.7 275.0,146.4 273.9,145.1 272.8,143.7 271.6,142.3 270.5,140.9 269.3,139.4 268.1,137.9 266.9,136.4 265.7,134.8"/>
<polygon fill="rgb(141,254,3)" filter="url(#bl2)" points="264.6,133.3 263.5,134.8 262.4,136.3 261.3,137.8 260.2,139.2 259.1,140.6 258.0,142.0 257.0,143.3 255.9,144.6 255.0,145.9 254.0,147.1 253.2,148.3 252.4,149.5 251.7,150.6 251.1,151.7 250.6,152.7 250.2,153.7 250.1,154.7 250.1,155.6 250.3,156.4 250.8,157.2 251.5,158.0 252.6,158.7 253.9,159.3 255.6,159.8 257.7,160.3 260.4,160.7 264.6,160.9 268.8,160.7 271.5,160.3 273.6,159.8 275.3,159.3 276.6,158.7 277.7,158.0 278.4,157.2 278.9,156.4 279.1,155.6 279.1,154.7 279.0,153.7 278.6,152.7 278.1,151.7 277.5,150.6 276.8,149.5 276.0,148.3 275.2,147.1 274.2,145.9 273.3,144.6 272.2,143.3 271.2,142.0 270.1,140.6 269.0,139.2 267.9,137.8 266.8,136.3 265.7,134.8"/>
<polygon fill="rgb(165,255,2)" filter="url(#bl2)" points="264.6,133.4 263.6,134.9 262.5,136.3 261.5,137.7 260.5,139.0 259.5,140.3 258.5,141.6 257.6,142.9 256.6,144.1 255.8,145.3 254.9,146.5 254.2,147.6 253.5,148.7 252.9,149.8 252.4,150.8 252.0,151.8 251.7,152.8 251.6,153.7 251.7,154.5 251.9,155.3 252.4,156.1 253.0,156.8 254.0,157.5 255.2,158.0 256.7,158.6 258.6,159.0 260.9,159.3 264.6,159.5 268.3,159.3 270.6,159.0 272.5,158.6 274.0,158.0 275.2,157.5 276.2,156.8 276.8,156.1 277.3,155.3 277.5,154.5 277.6,153.7 277.5,152.8 277.2,151.8 276.8,150.8 276.3,149.8 275.7,148.7 275.0,147.6 274.3,146.5 273.4,145.3 272.6,144.1 271.6,142.9 270.7,141.6 269.7,140.3 268.7,139.0 267.7,137.7 266.7,136.3 265.6,134.9"/>
<polygon fill="rgb(189,255,1)" points="264.6,133.6 263.6,134.9 262.6,136.3 261.7,137.6 260.8,138.8 259.9,140.1 259.0,141.3 258.2,142.5 257.4,143.7 256.6,144.8 255.9,145.9 255.2,147.0 254.6,148.0 254.1,149.0 253.7,150.0 253.4,150.9 253.2,151.8 253.1,152.7 253.2,153.5 253.5,154.2 253.9,155.0 254.5,155.6 255.4,156.2 256.4,156.8 257.7,157.3 259.4,157.7 261.4,158.0 264.6,158.2 267.8,158.0 269.8,157.7 271.5,157.3 272.8,156.8 273.8,156.2 274.7,155.6 275.3,155.0 275.7,154.2 276.0,153.5 276.1,152.7 276.0,151.8 275.8,150.9 275.5,150.0 275.1,149.0 274.6,148.0 274.0,147.0 273.3,145.9 272.6,144.8 271.8,143.7 271.0,142.5 270.2,141.3 269.3,140.1 268.4,138.8 267.5,137.6 266.6,136.3 265.6,134.9"/>
<polygon fill="rgb(213,255,0)" points="264.6,133.7 263.7,135.0 262.8,136.2 262.0,137.4 261.1,138.6 260.3,139.8 259.6,141.0 258.8,142.1 258.1,143.2 257.5,144.3 256.9,145.3 256.3,146.3 255.8,147.3 255.4,148.2 255.1,149.1 254.8,150.0 254.7,150.9 254.7,151.7 254.8,152.4 255.0,153.1 255.4,153.8 256.0,154.5 256.7,155.0 257.6,155.6 258.8,156.0 260.2,156.4 261.9,156.7 264.6,156.9 267.3,156.7 269.0,156.4 270.4,156.0 271.6,155.6 272.5,155.0 273.2,154.5 273.8,153.8 274.2,153.1 274.4,152.4 274.5,151.7 274.5,150.9 274.4,150.0 274.1,149.1 273.8,148.2 273.4,147.3 272.9,146.3 272.3,145.3 271.7,144.3 271.1,143.2 270.4,142.1 269.6,141.0 268.9,139.8 268.1,138.6 267.2,137.4 266.4,136.2 265.5,135.0"/>
<polygon fill="rgb(226,254,0)" points="264.6,133.8 263.8,135.0 263.0,136.2 262.2,137.3 261.5,138.4 260.8,139.6 260.2,140.6 259.6,141.7 259.0,142.7 258.4,143.7 257.9,144.7 257.5,145.6 257.1,146.6 256.7,147.4 256.5,148.3 256.3,149.1 256.2,149.9 256.2,150.7 256.3,151.4 256.6,152.1 256.9,152.7 257.4,153.3 258.0,153.8 258.8,154.3 259.8,154.8 260.9,155.1 262.4,155.4 264.6,155.6 266.8,155.4 268.3,155.1 269.4,154.8 270.4,154.3 271.2,153.8 271.8,153.3 272.3,152.7 272.6,152.1 272.9,151.4 273.0,150.7 273.0,149.9 272.9,149.1 272.7,148.3 272.5,147.4 272.1,146.6 271.7,145.6 271.3,144.7 270.8,143.7 270.2,142.7 269.6,141.7 269.0,140.6 268.4,139.6 267.7,138.4 267.0,137.3 266.2,136.2 265.4,135.0"/>
<polygon fill="rgb(238,252,0)" points="264.6,133.9 263.7,135.0 263.0,136.1 262.3,137.2 261.6,138.3 260.9,139.4 260.3,140.4 259.7,141.4 259.2,142.4 258.7,143.4 258.2,144.3 257.8,145.2 257.4,146.1 257.1,146.9 256.9,147.8 256.8,148.5 256.7,149.3 256.7,150.0 256.9,150.7 257.1,151.4 257.4,152.0 257.9,152.5 258.5,153.1 259.2,153.5 260.1,154.0 261.2,154.3 262.5,154.6 264.6,154.7 266.7,154.6 268.0,154.3 269.1,154.0 270.0,153.5 270.7,153.1 271.3,152.5 271.8,152.0 272.1,151.4 272.3,150.7 272.5,150.0 272.5,149.3 272.4,148.5 272.3,147.8 272.1,146.9 271.8,146.1 271.4,145.2 271.0,144.3 270.5,143.4 270.0,142.4 269.5,141.4 268.9,140.4 268.3,139.4 267.6,138.3 266.9,137.2 266.2,136.1 265.5,135.0"/>
<polygon fill="rgb(249,251,0)" points="264.6,133.9 263.7,135.0 263.0,136.1 262.3,137.2 261.6,138.2 261.0,139.2 260.4,140.2 259.8,141.2 259.3,142.1 258.8,143.0 258.4,143.9 258.0,144.8 257.7,145.6 257.5,146.5 257.3,147.2 257.1,148.0 257.1,148.7 257.2,149.4 257.3,150.1 257.5,150.7 257.9,151.3 258.3,151.8 258.9,152.3 259.6,152.8 260.4,153.2 261.4,153.5 262.7,153.8 264.6,153.9 266.5,153.8 267.8,153.5 268.8,153.2 269.6,152.8 270.3,152.3 270.9,151.8 271.3,151.3 271.7,150.7 271.9,150.1 272.0,149.4 272.1,148.7 272.1,148.0 271.9,147.2 271.7,146.5 271.5,145.6 271.2,144.8 270.8,143.9 270.4,143.0 269.9,142.1 269.4,141.2 268.8,140.2 268.2,139.2 267.6,138.2 266.9,137.2 266.2,136.1 265.5,135.0"/>
<polygon fill="rgb(255,244,0)" points="264.6,134.0 263.7,135.1 263.0,136.1 262.3,137.1 261.7,138.1 261.1,139.1 260.5,140.0 260.0,140.9 259.5,141.8 259.1,142.7 258.7,143.6 258.3,144.4 258.0,145.2 257.8,146.0 257.6,146.7 257.5,147.4 257.5,148.1 257.6,148.8 257.7,149.4 258.0,150.0 258.3,150.6 258.7,151.1 259.3,151.6 259.9,152.0 260.7,152.4 261.7,152.7 262.8,153.0 264.6,153.1 266.4,153.0 267.5,152.7 268.5,152.4 269.3,152.0 269.9,151.6 270.5,151.1 270.9,150.6 271.2,150.0 271.5,149.4 271.6,148.8 271.7,148.1 271.7,147.4 271.6,146.7 271.4,146.0 271.2,145.2 270.9,144.4 270.5,143.6 270.1,142.7 269.7,141.8 269.2,140.9 268.7,140.0 268.1,139.1 267.5,138.1 266.9,137.1 266.2,136.1 265.5,135.1"/>
<polygon fill="rgb(255,232,0)" points="264.6,134.1 263.7,135.1 263.0,136.1 262.3,137.0 261.7,138.0 261.2,138.9 260.6,139.8 260.1,140.7 259.7,141.5 259.3,142.4 258.9,143.2 258.6,144.0 258.3,144.7 258.1,145.5 258.0,146.2 257.9,146.9 257.9,147.6 258.0,148.2 258.2,148.8 258.4,149.4 258.7,149.9 259.1,150.4 259.7,150.8 260.3,151.3 261.0,151.6 261.9,151.9 263.0,152.2 264.6,152.3 266.2,152.2 267.3,151.9 268.2,151.6 268.9,151.3 269.5,150.8 270.1,150.4 270.5,149.9 270.8,149.4 271.0,148.8 271.2,148.2 271.3,147.6 271.3,146.9 271.2,146.2 271.1,145.5 270.9,144.7 270.6,144.0 270.3,143.2 269.9,142.4 269.5,141.5 269.1,140.7 268.6,139.8 268.0,138.9 267.5,138.0 266.9,137.0 266.2,136.1 265.5,135.1"/>
<polygon fill="rgb(255,221,0)" points="264.6,134.1 263.7,135.1 263.0,136.0 262.4,136.9 261.8,137.8 261.2,138.7 260.7,139.6 260.3,140.4 259.9,141.2 259.5,142.0 259.2,142.8 258.9,143.6 258.7,144.3 258.5,145.0 258.4,145.7 258.3,146.3 258.4,147.0 258.5,147.6 258.6,148.1 258.8,148.7 259.2,149.2 259.6,149.7 260.0,150.1 260.6,150.5 261.3,150.8 262.1,151.1 263.1,151.4 264.6,151.5 266.1,151.4 267.1,151.1 267.9,150.8 268.6,150.5 269.2,150.1 269.6,149.7 270.0,149.2 270.4,148.7 270.6,148.1 270.7,147.6 270.8,147.0 270.9,146.3 270.8,145.7 270.7,145.0 270.5,144.3 270.3,143.6 270.0,142.8 269.7,142.0 269.3,141.2 268.9,140.4 268.5,139.6 268.0,138.7 267.4,137.8 266.8,136.9 266.2,136.0 265.5,135.1"/>
<polygon fill="rgb(255,210,0)" points="264.6,134.2 263.7,135.1 263.0,136.0 262.4,136.9 261.9,137.7 261.3,138.6 260.9,139.4 260.5,140.2 260.1,141.0 259.7,141.7 259.4,142.4 259.2,143.2 259.0,143.9 258.9,144.5 258.8,145.2 258.8,145.8 258.8,146.4 258.9,147.0 259.1,147.5 259.3,148.0 259.6,148.5 260.0,148.9 260.4,149.4 260.9,149.7 261.6,150.1 262.3,150.3 263.2,150.6 264.6,150.7 266.0,150.6 266.9,150.3 267.6,150.1 268.3,149.7 268.8,149.4 269.2,148.9 269.6,148.5 269.9,148.0 270.1,147.5 270.3,147.0 270.4,146.4 270.4,145.8 270.4,145.2 270.3,144.5 270.2,143.9 270.0,143.2 269.8,142.4 269.5,141.7 269.1,141.0 268.7,140.2 268.3,139.4 267.9,138.6 267.3,137.7 266.8,136.9 266.2,136.0 265.5,135.1"/>
<polygon fill="rgb(255,197,0)" points="264.6,134.3 263.7,135.1 263.0,136.0 262.5,136.8 261.9,137.6 261.5,138.4 261.0,139.2 260.6,139.9 260.3,140.7 260.0,141.4 259.7,142.1 259.5,142.8 259.3,143.4 259.2,144.0 259.2,144.7 259.2,145.2 259.2,145.8 259.3,146.3 259.5,146.9 259.7,147.3 260.0,147.8 260.3,148.2 260.8,148.6 261.3,149.0 261.8,149.3 262.5,149.5 263.3,149.7 264.6,149.9 265.9,149.7 266.7,149.5 267.4,149.3 267.9,149.0 268.4,148.6 268.9,148.2 269.2,147.8 269.5,147.3 269.7,146.9 269.9,146.3 270.0,145.8 270.0,145.2 270.0,144.7 270.0,144.0 269.9,143.4 269.7,142.8 269.5,142.1 269.2,141.4 268.9,140.7 268.6,139.9 268.2,139.2 267.7,138.4 267.3,137.6 266.7,136.8 266.2,136.0 265.5,135.1"/>
<polygon fill="rgb(255,176,0)" points="264.6,134.4 263.7,135.2 263.1,136.0 262.5,136.8 262.0,137.5 261.6,138.3 261.2,139.0 260.8,139.7 260.5,140.4 260.2,141.1 260.0,141.7 259.8,142.4 259.7,143.0 259.6,143.6 259.6,144.2 259.6,144.7 259.6,145.3 259.7,145.8 259.9,146.3 260.1,146.7 260.4,147.2 260.7,147.6 261.1,147.9 261.6,148.3 262.1,148.6 262.7,148.8 263.5,149.0 264.6,149.1 265.7,149.0 266.5,148.8 267.1,148.6 267.6,148.3 268.1,147.9 268.5,147.6 268.8,147.2 269.1,146.7 269.3,146.3 269.5,145.8 269.6,145.3 269.6,144.7 269.6,144.2 269.6,143.6 269.5,143.0 269.4,142.4 269.2,141.7 269.0,141.1 268.7,140.4 268.4,139.7 268.0,139.0 267.6,138.3 267.2,137.5 266.7,136.8 266.1,136.0 265.5,135.2"/>
<polygon fill="rgb(255,155,0)" points="264.6,134.4 263.7,135.2 263.1,136.0 262.6,136.7 262.1,137.4 261.7,138.1 261.3,138.8 261.0,139.5 260.7,140.2 260.5,140.8 260.3,141.4 260.2,142.0 260.0,142.6 260.0,143.2 259.9,143.7 260.0,144.3 260.0,144.8 260.1,145.3 260.3,145.7 260.5,146.2 260.8,146.6 261.1,146.9 261.4,147.3 261.8,147.6 262.3,147.9 262.9,148.1 263.6,148.3 264.6,148.4 265.6,148.3 266.3,148.1 266.9,147.9 267.4,147.6 267.8,147.3 268.1,146.9 268.4,146.6 268.7,146.2 268.9,145.7 269.1,145.3 269.2,144.8 269.2,144.3 269.3,143.7 269.2,143.2 269.2,142.6 269.0,142.0 268.9,141.4 268.7,140.8 268.5,140.2 268.2,139.5 267.9,138.8 267.5,138.1 267.1,137.4 266.6,136.7 266.1,136.0 265.5,135.2"/>
<polygon fill="rgb(255,135,0)" points="264.6,134.5 263.7,135.3 263.1,136.0 262.6,136.7 262.2,137.4 261.8,138.0 261.5,138.7 261.2,139.3 261.0,139.9 260.8,140.5 260.6,141.1 260.5,141.7 260.4,142.2 260.3,142.8 260.3,143.3 260.4,143.8 260.4,144.3 260.5,144.7 260.7,145.2 260.9,145.6 261.1,146.0 261.4,146.3 261.7,146.7 262.1,146.9 262.6,147.2 263.1,147.4 263.7,147.6 264.6,147.7 265.5,147.6 266.1,147.4 266.6,147.2 267.1,146.9 267.5,146.7 267.8,146.3 268.1,146.0 268.3,145.6 268.5,145.2 268.7,144.7 268.8,144.3 268.8,143.8 268.9,143.3 268.9,142.8 268.8,142.2 268.7,141.7 268.6,141.1 268.4,140.5 268.2,139.9 268.0,139.3 267.7,138.7 267.4,138.0 267.0,137.4 266.6,136.7 266.1,136.0 265.5,135.3"/>
<polygon fill="rgb(255,113,0)" points="264.6,134.6 263.7,135.3 263.2,136.0 262.7,136.6 262.3,137.3 262.0,137.9 261.7,138.5 261.5,139.1 261.2,139.7 261.1,140.3 260.9,140.8 260.8,141.4 260.7,141.9 260.7,142.4 260.7,142.9 260.8,143.3 260.8,143.8 260.9,144.2 261.1,144.6 261.3,145.0 261.5,145.4 261.7,145.7 262.0,146.0 262.4,146.3 262.8,146.5 263.2,146.7 263.8,146.9 264.6,147.0 265.4,146.9 266.0,146.7 266.4,146.5 266.8,146.3 267.2,146.0 267.5,145.7 267.7,145.4 267.9,145.0 268.1,144.6 268.3,144.2 268.4,143.8 268.4,143.3 268.5,142.9 268.5,142.4 268.5,141.9 268.4,141.4 268.3,140.8 268.1,140.3 268.0,139.7 267.7,139.1 267.5,138.5 267.2,137.9 266.9,137.3 266.5,136.6 266.0,136.0 265.5,135.3"/>
<polygon fill="rgb(255,91,0)" points="264.6,134.7 263.7,135.4 263.2,136.0 262.8,136.6 262.5,137.2 262.2,137.8 261.9,138.3 261.7,138.9 261.5,139.5 261.4,140.0 261.3,140.5 261.2,141.0 261.1,141.5 261.1,142.0 261.1,142.4 261.1,142.9 261.2,143.3 261.3,143.7 261.5,144.1 261.6,144.4 261.8,144.8 262.1,145.1 262.3,145.4 262.6,145.6 263.0,145.9 263.4,146.1 263.9,146.2 264.6,146.3 265.3,146.2 265.8,146.1 266.2,145.9 266.6,145.6 266.9,145.4 267.1,145.1 267.4,144.8 267.6,144.4 267.7,144.1 267.9,143.7 268.0,143.3 268.1,142.9 268.1,142.4 268.1,142.0 268.1,141.5 268.0,141.0 267.9,140.5 267.8,140.0 267.7,139.5 267.5,138.9 267.3,138.3 267.0,137.8 266.7,137.2 266.4,136.6 266.0,136.0 265.5,135.4"/>
<polygon fill="rgb(255,69,0)" points="264.6,134.8 263.8,135.4 263.3,136.0 262.9,136.5 262.6,137.1 262.4,137.7 262.1,138.2 262.0,138.7 261.8,139.2 261.7,139.7 261.6,140.2 261.5,140.7 261.5,141.1 261.5,141.6 261.5,142.0 261.5,142.4 261.6,142.8 261.7,143.1 261.8,143.5 262.0,143.8 262.2,144.2 262.4,144.4 262.6,144.7 262.9,145.0 263.2,145.2 263.5,145.4 264.0,145.5 264.6,145.6 265.2,145.5 265.7,145.4 266.0,145.2 266.3,145.0 266.6,144.7 266.8,144.4 267.0,144.2 267.2,143.8 267.4,143.5 267.5,143.1 267.6,142.8 267.7,142.4 267.7,142.0 267.7,141.6 267.7,141.1 267.7,140.7 267.6,140.2 267.5,139.7 267.4,139.2 267.2,138.7 267.1,138.2 266.8,137.7 266.6,137.1 266.3,136.5 265.9,136.0 265.4,135.4"/>
<polygon fill="rgb(255,47,0)" points="264.6,134.9 263.8,135.4 263.4,136.0 263.0,136.5 262.8,137.0 262.6,137.5 262.4,138.0 262.2,138.5 262.1,139.0 262.0,139.4 261.9,139.9 261.9,140.3 261.9,140.7 261.9,141.1 261.9,141.5 261.9,141.9 262.0,142.3 262.1,142.6 262.2,142.9 262.3,143.3 262.5,143.6 262.7,143.8 262.9,144.1 263.1,144.3 263.4,144.5 263.7,144.7 264.1,144.8 264.6,144.9 265.1,144.8 265.5,144.7 265.8,144.5 266.1,144.3 266.3,144.1 266.5,143.8 266.7,143.6 266.9,143.3 267.0,142.9 267.1,142.6 267.2,142.3 267.3,141.9 267.3,141.5 267.3,141.1 267.3,140.7 267.3,140.3 267.3,139.9 267.2,139.4 267.1,139.0 267.0,138.5 266.8,138.0 266.6,137.5 266.4,137.0 266.2,136.5 265.8,136.0 265.4,135.4"/>
<polygon fill="rgb(255,32,0)" points="264.6,135.3 263.9,135.8 263.5,136.2 263.2,136.7 263.0,137.2 262.8,137.6 262.7,138.0 262.6,138.5 262.5,138.9 262.4,139.3 262.3,139.7 262.3,140.0 262.3,140.4 262.3,140.8 262.3,141.1 262.3,141.5 262.4,141.8 262.5,142.1 262.6,142.4 262.7,142.6 262.8,142.9 263.0,143.1 263.2,143.4 263.4,143.6 263.6,143.7 263.8,143.9 264.1,144.0 264.6,144.1 265.1,144.0 265.4,143.9 265.6,143.7 265.8,143.6 266.0,143.4 266.2,143.1 266.4,142.9 266.5,142.6 266.6,142.4 266.7,142.1 266.8,141.8 266.9,141.5 266.9,141.1 266.9,140.8 266.9,140.4 266.9,140.0 266.9,139.7 266.8,139.3 266.7,138.9 266.6,138.5 266.5,138.0 266.4,137.6 266.2,137.2 266.0,136.7 265.7,136.2 265.3,135.8"/>
<polygon fill="rgb(255,17,0)" points="264.6,135.7 264.0,136.1 263.7,136.5 263.5,136.9 263.3,137.3 263.1,137.7 263.0,138.1 262.9,138.4 262.8,138.8 262.8,139.1 262.7,139.5 262.7,139.8 262.7,140.1 262.7,140.4 262.7,140.7 262.8,141.0 262.8,141.3 262.9,141.5 263.0,141.8 263.1,142.0 263.2,142.2 263.3,142.4 263.4,142.6 263.6,142.8 263.8,142.9 264.0,143.1 264.2,143.2 264.6,143.2 265.0,143.2 265.2,143.1 265.4,142.9 265.6,142.8 265.8,142.6 265.9,142.4 266.0,142.2 266.1,142.0 266.2,141.8 266.3,141.5 266.4,141.3 266.4,141.0 266.5,140.7 266.5,140.4 266.5,140.1 266.5,139.8 266.5,139.5 266.4,139.1 266.4,138.8 266.3,138.4 266.2,138.1 266.1,137.7 265.9,137.3 265.7,136.9 265.5,136.5 265.2,136.1"/>
<polygon fill="rgb(255,10,0)" points="264.6,136.1 264.1,136.4 263.9,136.8 263.7,137.1 263.5,137.4 263.4,137.8 263.3,138.1 263.2,138.4 263.2,138.7 263.1,139.0 263.1,139.3 263.1,139.5 263.1,139.8 263.1,140.0 263.1,140.3 263.2,140.5 263.2,140.8 263.3,141.0 263.3,141.2 263.4,141.4 263.5,141.6 263.6,141.7 263.7,141.9 263.8,142.0 264.0,142.2 264.1,142.3 264.3,142.4 264.6,142.4 264.9,142.4 265.1,142.3 265.2,142.2 265.4,142.0 265.5,141.9 265.6,141.7 265.7,141.6 265.8,141.4 265.9,141.2 265.9,141.0 266.0,140.8 266.0,140.5 266.1,140.3 266.1,140.0 266.1,139.8 266.1,139.5 266.1,139.3 266.1,139.0 266.0,138.7 266.0,138.4 265.9,138.1 265.8,137.8 265.7,137.4 265.5,137.1 265.3,136.8 265.1,136.4"/>
</g></g>
<g fill="none" stroke="#505050" stroke-width="0.8">
<path d="M208.60 8.40 V251.00 H337.50 V8.40 Z"/>
</g>
<path d="M207.00 127.25 H337.50" stroke="#111" stroke-width="1.1" fill="none"/>
<path d="M208.60 8.40 h-1.6 M208.60 41.20 h-1.6 M337.50 41.20 h-1.6 M208.60 74.00 h-1.6 M337.50 74.00 h-1.6 M208.60 107.00 h-1.6 M337.50 107.00 h-1.6 M208.60 127.25 h-1.7 M208.60 147.88 h-1.0 M208.60 168.50 h-1.7 M208.60 189.12 h-1.0 M208.60 209.75 h-1.7 M208.60 230.38 h-1.0 M208.60 251.00 h-1.7 M208.60 251.00 v1.8 M234.38 251.00 v1.8 M234.38 127.25 v2.0 M260.16 251.00 v1.8 M260.16 127.25 v2.0 M285.94 251.00 v1.8 M285.94 127.25 v2.0 M311.72 251.00 v1.8 M311.72 127.25 v2.0 M337.50 251.00 v1.8" stroke="#222" stroke-width="0.8" fill="none"/>
<g font-size="4.8" font-weight="bold" fill="#111" text-anchor="end">
<text x="206.00" y="9.90">1.0</text>
<text x="206.00" y="42.70">0.5</text>
<text x="206.00" y="75.50">0.0</text>
<text x="206.00" y="108.50">−0.5</text>
<text x="204.40" y="128.85" font-size="5.0">180</text>
<text x="204.40" y="170.10" font-size="5.0">120</text>
<text x="204.40" y="211.35" font-size="5.0">60</text>
<text x="204.40" y="252.60" font-size="5.0">0</text>
</g>
<g font-size="5.4" font-weight="bold" fill="#111" text-anchor="middle">
<text x="208.60" y="259.70">3.0</text>
<text x="234.38" y="259.70">3.1</text>
<text x="260.16" y="259.70">3.2</text>
<text x="285.94" y="259.70">3.3</text>
<text x="311.72" y="259.70">3.4</text>
<text x="337.50" y="259.70">3.5</text>
</g>
<text font-size="6.8" font-weight="bold" fill="#1a1a1a" text-anchor="middle" x="276.85" y="268.10">Frequency (GHz)</text>
<text font-size="6.85" font-weight="bold" fill="#1a1a1a" text-anchor="middle" transform="translate(197.20 71.90) rotate(-90)">Scattering coefficients</text>
<text font-size="7.0" font-weight="bold" fill="#1a1a1a" text-anchor="middle" transform="translate(195.60 192.80) rotate(-90)">Scattering angle (in degs)</text>
<text font-size="10.7" fill="#111" text-anchor="middle" x="271.50" y="280.00">(b)</text>
<polyline fill="none" stroke="#000" stroke-width="1.05" points="208.60,69.10 209.60,69.04 210.60,68.97 211.60,68.91 212.60,68.84 213.60,68.78 214.60,68.71 215.60,68.65 216.60,68.58 217.60,68.52 218.60,68.45 219.60,68.39 220.60,68.32 221.60,68.26 222.60,68.19 223.60,68.13 224.60,68.06 225.60,67.99 226.60,67.93 227.60,67.86 228.60,67.80 229.60,67.73 230.60,67.67 231.60,67.60 232.60,67.54 233.60,67.47 234.60,67.41 235.60,67.34 236.60,67.27 237.60,67.21 238.60,67.14 239.60,67.08 240.60,67.01 241.60,66.95 242.60,66.88 243.60,66.82 244.60,66.75 245.60,66.68 246.60,66.62 247.60,66.55 248.60,66.49 249.60,66.42 250.60,66.35 251.60,66.29 252.60,66.22 253.60,66.16 254.60,66.09 255.60,66.02 256.60,65.96 257.60,65.89 258.60,65.82 259.60,65.76 260.60,65.69 261.60,65.63 262.60,65.56 263.60,65.49 264.60,65.43 265.60,65.36 266.60,65.29 267.60,65.23 268.60,65.16 269.60,65.09 270.60,65.03 271.60,64.96 272.60,64.89 273.60,64.83 274.60,64.76 275.60,64.69 276.60,64.63 277.60,64.56 278.60,64.49 279.60,64.43 280.60,64.36 281.60,64.29 282.60,64.23 283.60,64.16 284.60,64.09 285.60,64.02 286.60,63.96 287.60,63.89 288.60,63.82 289.60,63.76 290.60,63.69 291.60,63.62 292.60,63.55 293.60,63.49 294.60,63.42 295.60,63.35 296.60,63.29 297.60,63.22 298.60,63.15 299.60,63.08 300.60,63.02 301.60,62.95 302.60,62.88 303.60,62.81 304.60,62.75 305.60,62.68 306.60,62.61 307.60,62.54 308.60,62.48 309.60,62.41 310.60,62.34 311.60,62.27 312.60,62.20 313.60,62.14 314.60,62.07 315.60,62.00 316.60,61.93 317.60,61.86 318.60,61.80 319.60,61.73 320.60,61.66 321.60,61.59 322.60,61.52 323.60,61.46 324.60,61.39 325.60,61.32 326.60,61.25 327.60,61.18 328.60,61.12 329.60,61.05 330.60,60.98 331.60,60.91 332.60,60.84 333.60,60.77 334.60,60.71 335.60,60.64 336.60,60.57 337.60,60.50"/>
<polyline fill="none" stroke="#ff0808" stroke-width="1.05" points="208.60,72.99 209.60,72.93 210.60,72.88 211.60,72.84 212.60,72.79 213.60,72.76 214.60,72.72 215.60,72.68 216.60,72.65 217.60,72.61 218.60,72.57 219.60,72.53 220.60,72.49 221.60,72.44 222.60,72.39 223.60,72.34 224.60,72.28 225.60,72.21 226.60,72.15 227.60,72.07 228.60,71.99 229.60,71.91 230.60,71.82 231.60,71.73 232.60,71.63 233.60,71.53 234.60,71.42 235.60,71.30 236.60,71.18 237.60,71.06 238.60,70.93 239.60,70.80 240.60,70.66 241.60,70.52 242.60,70.37 243.60,70.22 244.60,70.07 245.60,69.91 246.60,69.74 247.60,69.57 248.60,69.40 249.60,69.22 250.60,69.04 251.60,68.85 252.60,68.66 253.60,68.47 254.60,68.27 255.60,68.06 256.60,67.85 257.60,67.63 258.60,67.41 259.60,67.18 260.60,66.95 261.60,66.71 262.60,66.46 263.60,66.21 264.60,65.95 265.60,65.68 266.60,65.41 267.60,65.12 268.60,64.83 269.60,64.53 270.60,64.22 271.60,63.91 272.60,63.58 273.60,63.24 274.60,62.89 275.60,62.54 276.60,62.17 277.60,61.79 278.60,61.39 279.60,60.99 280.60,60.57 281.60,60.15 282.60,59.70 283.60,59.25 284.60,58.78 285.60,58.30 286.60,57.81 287.60,57.30 288.60,56.77 289.60,56.24 290.60,55.68 291.60,55.12 292.60,54.53 293.60,53.94 294.60,53.33 295.60,52.70 296.60,52.06 297.60,51.40 298.60,50.73 299.60,50.05 300.60,49.35 301.60,48.63 302.60,47.90 303.60,47.16 304.60,46.40 305.60,45.63 306.60,44.84 307.60,44.04 308.60,43.23 309.60,42.40 310.60,41.57 311.60,40.72 312.60,39.86 313.60,38.98 314.60,38.10 315.60,37.20 316.60,36.30 317.60,35.39 318.60,34.46 319.60,33.53 320.60,32.59 321.60,31.64 322.60,30.68 323.60,29.71 324.60,28.74 325.60,27.76 326.60,26.77 327.60,25.78 328.60,24.78 329.60,23.77 330.60,22.76 331.60,21.74 332.60,20.72 333.60,19.69 334.60,18.65 335.60,17.61 336.60,16.56 337.60,15.50"/>
<polyline fill="none" stroke="#000" stroke-width="1.1" stroke-dasharray="3.6 4" points="208.60,93.10 209.60,93.16 210.60,93.22 211.60,93.28 212.60,93.34 213.60,93.41 214.60,93.47 215.60,93.53 216.60,93.59 217.60,93.65 218.60,93.71 219.60,93.78 220.60,93.84 221.60,93.90 222.60,93.96 223.60,94.02 224.60,94.09 225.60,94.15 226.60,94.21 227.60,94.28 228.60,94.34 229.60,94.40 230.60,94.47 231.60,94.53 232.60,94.59 233.60,94.66 234.60,94.72 235.60,94.78 236.60,94.85 237.60,94.91 238.60,94.98 239.60,95.04 240.60,95.10 241.60,95.17 242.60,95.23 243.60,95.30 244.60,95.36 245.60,95.43 246.60,95.49 247.60,95.56 248.60,95.62 249.60,95.69 250.60,95.75 251.60,95.82 252.60,95.89 253.60,95.95 254.60,96.02 255.60,96.08 256.60,96.15 257.60,96.22 258.60,96.28 259.60,96.35 260.60,96.42 261.60,96.48 262.60,96.55 263.60,96.62 264.60,96.69 265.60,96.75 266.60,96.82 267.60,96.89 268.60,96.96 269.60,97.02 270.60,97.09 271.60,97.16 272.60,97.23 273.60,97.30 274.60,97.36 275.60,97.43 276.60,97.50 277.60,97.57 278.60,97.64 279.60,97.71 280.60,97.78 281.60,97.85 282.60,97.92 283.60,97.98 284.60,98.05 285.60,98.12 286.60,98.19 287.60,98.26 288.60,98.33 289.60,98.40 290.60,98.47 291.60,98.54 292.60,98.61 293.60,98.68 294.60,98.76 295.60,98.83 296.60,98.90 297.60,98.97 298.60,99.04 299.60,99.11 300.60,99.18 301.60,99.25 302.60,99.32 303.60,99.40 304.60,99.47 305.60,99.54 306.60,99.61 307.60,99.68 308.60,99.76 309.60,99.83 310.60,99.90 311.60,99.97 312.60,100.05 313.60,100.12 314.60,100.19 315.60,100.26 316.60,100.34 317.60,100.41 318.60,100.48 319.60,100.56 320.60,100.63 321.60,100.70 322.60,100.78 323.60,100.85 324.60,100.93 325.60,101.00 326.60,101.08 327.60,101.15 328.60,101.22 329.60,101.30 330.60,101.37 331.60,101.45 332.60,101.52 333.60,101.60 334.60,101.67 335.60,101.75 336.60,101.82 337.60,101.90"/>
<polyline fill="none" stroke="#ff0808" stroke-width="1.1" stroke-dasharray="3.6 4" points="208.60,85.89 209.60,85.93 210.60,86.00 211.60,86.10 212.60,86.22 213.60,86.36 214.60,86.51 215.60,86.68 216.60,86.86 217.60,87.04 218.60,87.24 219.60,87.43 220.60,87.63 221.60,87.83 222.60,88.03 223.60,88.23 224.60,88.43 225.60,88.62 226.60,88.82 227.60,89.01 228.60,89.20 229.60,89.38 230.60,89.56 231.60,89.74 232.60,89.92 233.60,90.09 234.60,90.27 235.60,90.44 236.60,90.61 237.60,90.78 238.60,90.94 239.60,91.11 240.60,91.28 241.60,91.45 242.60,91.62 243.60,91.79 244.60,91.97 245.60,92.15 246.60,92.33 247.60,92.51 248.60,92.70 249.60,92.90 250.60,93.10 251.60,93.30 252.60,93.51 253.60,93.72 254.60,93.94 255.60,94.17 256.60,94.40 257.60,94.64 258.60,94.89 259.60,95.14 260.60,95.40 261.60,95.66 262.60,95.93 263.60,96.21 264.60,96.50 265.60,96.78 266.60,97.08 267.60,97.38 268.60,97.68 269.60,97.99 270.60,98.31 271.60,98.62 272.60,98.94 273.60,99.27 274.60,99.59 275.60,99.92 276.60,100.25 277.60,100.58 278.60,100.91 279.60,101.24 280.60,101.57 281.60,101.90 282.60,102.22 283.60,102.55 284.60,102.87 285.60,103.18 286.60,103.50 287.60,103.80 288.60,104.10 289.60,104.40 290.60,104.68 291.60,104.96 292.60,105.23 293.60,105.49 294.60,105.74 295.60,105.98 296.60,106.21 297.60,106.43 298.60,106.64 299.60,106.83 300.60,107.01 301.60,107.17 302.60,107.32 303.60,107.45 304.60,107.57 305.60,107.67 306.60,107.75 307.60,107.81 308.60,107.86 309.60,107.88 310.60,107.88 311.60,107.86 312.60,107.82 313.60,107.75 314.60,107.66 315.60,107.54 316.60,107.40 317.60,107.23 318.60,107.03 319.60,106.80 320.60,106.53 321.60,106.24 322.60,105.90 323.60,105.53 324.60,105.12 325.60,104.68 326.60,104.18 327.60,103.64 328.60,103.06 329.60,102.42 330.60,101.73 331.60,100.98 332.60,100.18 333.60,99.30 334.60,98.36 335.60,97.35 336.60,96.26 337.60,95.09"/>
<circle cx="266.50" cy="65.30" r="1.35" fill="#1e96e6"/>
<circle cx="266.30" cy="96.80" r="1.35" fill="#ff8000"/>
<path d="M264.50 106.70 h2.6 V119.10 h1.1 L265.80 122.50 L263.40 119.10 h1.1 Z" fill="#fde0d2"/>
<path d="M231.60 20.70 h15.3" stroke="#000" stroke-width="1.05"/>
<path d="M268.80 20.70 h15.3" stroke="#ff0808" stroke-width="1.05"/>
<path d="M231.60 31.10 h15.3" stroke="#000" stroke-width="1.1" stroke-dasharray="3.4 4.8"/>
<path d="M269.30 31.10 h15.3" stroke="#ff0808" stroke-width="1.1" stroke-dasharray="3.4 4.8"/>
<g font-size="5.2" font-weight="bold" fill="#222">
<text x="248.00" y="22.30">Real(a<tspan font-size="3.4" dy="1.0">1</tspan><tspan dy="-1.0">)</tspan></text>
<text x="285.10" y="22.30">Real(b<tspan font-size="3.4" dy="1.0">1</tspan><tspan dy="-1.0">)</tspan></text>
<text x="248.00" y="32.70">Imag(a<tspan font-size="3.4" dy="1.0">1</tspan><tspan dy="-1.0">)</tspan></text>
<text x="285.10" y="32.70">Imag(b<tspan font-size="3.4" dy="1.0">1</tspan><tspan dy="-1.0">)</tspan></text>
</g>
<rect x="343.20" y="153.3" width="14" height="84.3" fill="url(#cb)"/>
<g font-size="4.4" font-weight="bold" fill="#000">
<text x="364.20" y="154.90" text-anchor="end">1.5</text>
<text x="364.20" y="171.80" text-anchor="end">1.0</text>
<text x="364.20" y="188.70" text-anchor="end">0.5</text>
<text x="364.20" y="205.60" text-anchor="end">0.0</text>
<text x="364.20" y="222.50" text-anchor="end">−0.5</text>
<text x="364.20" y="239.40" text-anchor="end">−1.0</text>
</g>
<text x="341.90" y="149.0" font-size="6.6" font-weight="bold" fill="#222">Δ<tspan font-size="3.3" dy="1.9" fill="#333">SHE</tspan><tspan dy="-1.9">/</tspan><tspan font-style="italic">λ</tspan></text>
</g>
<g>
<rect x="388.60" y="127.25" width="128.90" height="123.75" fill="url(#bg)"/>
<clipPath id="cp2"><rect x="388.60" y="127.25" width="128.90" height="123.75"/></clipPath>
<g clip-path="url(#cp2)">
<g filter="url(#bl3)" fill="#00ff58" opacity="0.9"><polygon points="382.6,123.2 483.1,123.2 481.1,127.8 382.6,150.2"/><polygon points="497.1,123.2 523.5,123.2 523.5,139.2 499.1,127.8"/></g>
<g filter="url(#bl)">
<polygon fill="rgb(78,254,3)" filter="url(#bl2)" points="490.1,133.9 487.7,135.6 485.6,137.2 483.7,138.8 481.8,140.4 480.0,141.9 478.3,143.4 476.7,144.9 475.1,146.4 473.6,147.8 472.1,149.1 470.8,150.4 469.6,151.7 468.5,152.9 467.6,154.1 466.9,155.3 466.4,156.4 466.2,157.4 466.2,158.4 466.6,159.4 467.4,160.3 468.6,161.1 470.3,161.9 472.5,162.6 475.2,163.2 478.7,163.7 483.1,164.1 490.1,164.3 497.1,164.1 501.5,163.7 505.0,163.2 507.7,162.6 509.9,161.9 511.6,161.1 512.8,160.3 513.6,159.4 514.0,158.4 514.0,157.4 513.8,156.4 513.3,155.3 512.6,154.1 511.7,152.9 510.6,151.7 509.4,150.4 508.1,149.1 506.6,147.8 505.1,146.4 503.5,144.9 501.9,143.4 500.2,141.9 498.4,140.4 496.5,138.8 494.6,137.2 492.5,135.6"/>
<polygon fill="rgb(117,254,4)" filter="url(#bl2)" points="490.1,134.0 487.8,135.6 485.9,137.2 484.1,138.7 482.4,140.2 480.7,141.7 479.2,143.1 477.7,144.5 476.2,145.9 474.9,147.2 473.6,148.5 472.4,149.8 471.4,151.0 470.5,152.2 469.7,153.3 469.1,154.4 468.7,155.4 468.5,156.5 468.6,157.4 469.1,158.3 469.8,159.2 470.9,159.9 472.5,160.7 474.4,161.3 476.9,161.9 480.0,162.4 484.0,162.8 490.1,163.0 496.2,162.8 500.2,162.4 503.3,161.9 505.8,161.3 507.7,160.7 509.3,159.9 510.4,159.2 511.1,158.3 511.6,157.4 511.7,156.5 511.5,155.4 511.1,154.4 510.5,153.3 509.7,152.2 508.8,151.0 507.8,149.8 506.6,148.5 505.3,147.2 504.0,145.9 502.5,144.5 501.0,143.1 499.5,141.7 497.8,140.2 496.1,138.7 494.3,137.2 492.4,135.6"/>
<polygon fill="rgb(141,254,3)" filter="url(#bl2)" points="490.1,134.1 487.9,135.6 486.1,137.1 484.5,138.6 482.9,140.0 481.4,141.4 480.0,142.8 478.7,144.1 477.4,145.4 476.2,146.7 475.1,147.9 474.1,149.1 473.2,150.3 472.4,151.4 471.7,152.5 471.2,153.5 470.9,154.5 470.8,155.5 471.0,156.4 471.4,157.2 472.1,158.0 473.2,158.8 474.6,159.5 476.3,160.1 478.6,160.6 481.3,161.1 484.7,161.5 490.1,161.7 495.5,161.5 498.9,161.1 501.6,160.6 503.9,160.1 505.6,159.5 507.0,158.8 508.1,158.0 508.8,157.2 509.2,156.4 509.4,155.5 509.3,154.5 509.0,153.5 508.5,152.5 507.8,151.4 507.0,150.3 506.1,149.1 505.1,147.9 504.0,146.7 502.8,145.4 501.5,144.1 500.2,142.8 498.8,141.4 497.3,140.0 495.7,138.6 494.1,137.1 492.3,135.6"/>
<polygon fill="rgb(165,255,2)" filter="url(#bl2)" points="490.1,134.2 488.1,135.7 486.4,137.1 484.9,138.5 483.5,139.8 482.2,141.1 480.9,142.4 479.7,143.7 478.6,144.9 477.6,146.1 476.6,147.3 475.7,148.4 474.9,149.5 474.3,150.6 473.7,151.6 473.3,152.6 473.1,153.6 473.1,154.5 473.3,155.3 473.7,156.1 474.4,156.9 475.3,157.6 476.6,158.3 478.1,158.8 480.1,159.4 482.5,159.8 485.5,160.1 490.1,160.3 494.7,160.1 497.7,159.8 500.1,159.4 502.1,158.8 503.6,158.3 504.9,157.6 505.8,156.9 506.5,156.1 506.9,155.3 507.1,154.5 507.1,153.6 506.9,152.6 506.5,151.6 505.9,150.6 505.3,149.5 504.5,148.4 503.6,147.3 502.6,146.1 501.6,144.9 500.5,143.7 499.3,142.4 498.0,141.1 496.7,139.8 495.3,138.5 493.8,137.1 492.1,135.7"/>
<polygon fill="rgb(189,255,1)" points="490.1,134.4 488.2,135.7 486.7,137.1 485.4,138.4 484.1,139.6 483.0,140.9 481.9,142.1 480.8,143.3 479.9,144.5 479.0,145.6 478.1,146.7 477.4,147.8 476.7,148.8 476.2,149.8 475.8,150.8 475.5,151.7 475.3,152.6 475.3,153.5 475.5,154.3 475.9,155.0 476.6,155.8 477.4,156.4 478.5,157.0 479.9,157.6 481.6,158.1 483.6,158.5 486.1,158.8 490.1,159.0 494.1,158.8 496.6,158.5 498.6,158.1 500.3,157.6 501.7,157.0 502.8,156.4 503.6,155.8 504.3,155.0 504.7,154.3 504.9,153.5 504.9,152.6 504.7,151.7 504.4,150.8 504.0,149.8 503.5,148.8 502.8,147.8 502.1,146.7 501.2,145.6 500.3,144.5 499.4,143.3 498.3,142.1 497.2,140.9 496.1,139.6 494.8,138.4 493.5,137.1 492.0,135.7"/>
<polygon fill="rgb(213,255,0)" points="490.1,134.5 488.4,135.8 487.1,137.0 485.9,138.2 484.8,139.4 483.8,140.6 482.8,141.8 482.0,142.9 481.1,144.0 480.4,145.1 479.7,146.1 479.1,147.1 478.5,148.1 478.1,149.0 477.8,149.9 477.6,150.8 477.5,151.7 477.5,152.5 477.7,153.2 478.1,153.9 478.7,154.6 479.4,155.3 480.4,155.8 481.5,156.4 483.0,156.8 484.7,157.2 486.8,157.5 490.1,157.7 493.4,157.5 495.5,157.2 497.2,156.8 498.7,156.4 499.8,155.8 500.8,155.3 501.5,154.6 502.1,153.9 502.5,153.2 502.7,152.5 502.7,151.7 502.6,150.8 502.4,149.9 502.1,149.0 501.7,148.1 501.1,147.1 500.5,146.1 499.8,145.1 499.1,144.0 498.2,142.9 497.4,141.8 496.4,140.6 495.4,139.4 494.3,138.2 493.1,137.0 491.8,135.8"/>
<polygon fill="rgb(226,254,0)" points="490.1,134.6 488.6,135.8 487.4,137.0 486.4,138.1 485.5,139.2 484.6,140.4 483.8,141.4 483.1,142.5 482.4,143.5 481.8,144.5 481.2,145.5 480.7,146.4 480.3,147.4 480.0,148.2 479.7,149.1 479.6,149.9 479.6,150.7 479.7,151.5 479.9,152.2 480.2,152.9 480.7,153.5 481.3,154.1 482.1,154.6 483.1,155.1 484.3,155.6 485.7,155.9 487.4,156.2 490.1,156.4 492.8,156.2 494.5,155.9 495.9,155.6 497.1,155.1 498.1,154.6 498.9,154.1 499.5,153.5 500.0,152.9 500.3,152.2 500.5,151.5 500.6,150.7 500.6,149.9 500.5,149.1 500.2,148.2 499.9,147.4 499.5,146.4 499.0,145.5 498.4,144.5 497.8,143.5 497.1,142.5 496.4,141.4 495.6,140.4 494.7,139.2 493.8,138.1 492.8,137.0 491.6,135.8"/>
<polygon fill="rgb(238,252,0)" points="490.1,134.7 488.6,135.8 487.5,136.9 486.5,138.0 485.7,139.1 484.8,140.2 484.1,141.2 483.4,142.2 482.8,143.2 482.2,144.2 481.7,145.1 481.3,146.0 480.9,146.9 480.6,147.7 480.4,148.6 480.3,149.3 480.3,150.1 480.4,150.8 480.6,151.5 480.9,152.2 481.4,152.8 482.0,153.3 482.7,153.9 483.7,154.3 484.7,154.8 486.0,155.1 487.6,155.4 490.1,155.5 492.6,155.4 494.2,155.1 495.5,154.8 496.5,154.3 497.5,153.9 498.2,153.3 498.8,152.8 499.3,152.2 499.6,151.5 499.8,150.8 499.9,150.1 499.9,149.3 499.8,148.6 499.6,147.7 499.3,146.9 498.9,146.0 498.5,145.1 498.0,144.2 497.4,143.2 496.8,142.2 496.1,141.2 495.4,140.2 494.5,139.1 493.7,138.0 492.7,136.9 491.6,135.8"/>
<polygon fill="rgb(249,251,0)" points="490.1,134.7 488.6,135.8 487.5,136.9 486.6,138.0 485.8,139.0 485.0,140.0 484.3,141.0 483.7,142.0 483.1,142.9 482.6,143.8 482.1,144.7 481.7,145.6 481.4,146.4 481.1,147.3 481.0,148.0 480.9,148.8 480.9,149.5 481.0,150.2 481.3,150.9 481.6,151.5 482.0,152.1 482.6,152.6 483.3,153.1 484.2,153.6 485.2,154.0 486.4,154.3 487.8,154.6 490.1,154.7 492.4,154.6 493.8,154.3 495.0,154.0 496.0,153.6 496.9,153.1 497.6,152.6 498.2,152.1 498.6,151.5 498.9,150.9 499.2,150.2 499.3,149.5 499.3,148.8 499.2,148.0 499.1,147.3 498.8,146.4 498.5,145.6 498.1,144.7 497.6,143.8 497.1,142.9 496.5,142.0 495.9,141.0 495.2,140.0 494.4,139.0 493.6,138.0 492.7,136.9 491.6,135.8"/>
<polygon fill="rgb(255,244,0)" points="490.1,134.8 488.6,135.9 487.6,136.9 486.7,137.9 485.9,138.9 485.2,139.9 484.6,140.8 484.0,141.7 483.4,142.6 483.0,143.5 482.5,144.4 482.2,145.2 481.9,146.0 481.7,146.8 481.6,147.5 481.5,148.2 481.5,148.9 481.7,149.6 481.9,150.2 482.2,150.8 482.7,151.4 483.2,151.9 483.9,152.4 484.6,152.8 485.6,153.2 486.7,153.5 488.0,153.8 490.1,153.9 492.2,153.8 493.5,153.5 494.6,153.2 495.6,152.8 496.3,152.4 497.0,151.9 497.5,151.4 498.0,150.8 498.3,150.2 498.5,149.6 498.7,148.9 498.7,148.2 498.6,147.5 498.5,146.8 498.3,146.0 498.0,145.2 497.7,144.4 497.2,143.5 496.8,142.6 496.2,141.7 495.6,140.8 495.0,139.9 494.3,138.9 493.5,137.9 492.6,136.9 491.6,135.9"/>
<polygon fill="rgb(255,232,0)" points="490.1,134.9 488.6,135.9 487.6,136.9 486.8,137.8 486.1,138.8 485.4,139.7 484.8,140.6 484.3,141.5 483.8,142.3 483.3,143.2 483.0,144.0 482.7,144.8 482.4,145.5 482.2,146.3 482.1,147.0 482.1,147.7 482.2,148.4 482.3,149.0 482.5,149.6 482.8,150.2 483.3,150.7 483.8,151.2 484.4,151.6 485.1,152.1 486.0,152.4 487.0,152.7 488.2,153.0 490.1,153.1 492.0,153.0 493.2,152.7 494.2,152.4 495.1,152.1 495.8,151.6 496.4,151.2 496.9,150.7 497.4,150.2 497.7,149.6 497.9,149.0 498.0,148.4 498.1,147.7 498.1,147.0 498.0,146.3 497.8,145.5 497.5,144.8 497.2,144.0 496.9,143.2 496.4,142.3 495.9,141.5 495.4,140.6 494.8,139.7 494.1,138.8 493.4,137.8 492.6,136.9 491.6,135.9"/>
<polygon fill="rgb(255,221,0)" points="490.1,134.9 488.6,135.9 487.7,136.8 486.9,137.7 486.2,138.6 485.6,139.5 485.0,140.4 484.5,141.2 484.1,142.0 483.7,142.8 483.4,143.6 483.1,144.4 482.9,145.1 482.8,145.8 482.7,146.5 482.7,147.1 482.8,147.8 482.9,148.4 483.1,148.9 483.4,149.5 483.8,150.0 484.3,150.5 484.9,150.9 485.6,151.3 486.3,151.6 487.3,151.9 488.4,152.2 490.1,152.3 491.8,152.2 492.9,151.9 493.9,151.6 494.6,151.3 495.3,150.9 495.9,150.5 496.4,150.0 496.8,149.5 497.1,148.9 497.3,148.4 497.4,147.8 497.5,147.1 497.5,146.5 497.4,145.8 497.3,145.1 497.1,144.4 496.8,143.6 496.5,142.8 496.1,142.0 495.7,141.2 495.2,140.4 494.6,139.5 494.0,138.6 493.3,137.7 492.5,136.8 491.6,135.9"/>
<polygon fill="rgb(255,210,0)" points="490.1,135.0 488.7,135.9 487.8,136.8 487.0,137.7 486.4,138.5 485.8,139.4 485.3,140.2 484.8,141.0 484.4,141.8 484.1,142.5 483.8,143.2 483.6,144.0 483.4,144.7 483.3,145.3 483.3,146.0 483.3,146.6 483.4,147.2 483.5,147.8 483.7,148.3 484.0,148.8 484.4,149.3 484.8,149.7 485.4,150.2 486.0,150.5 486.7,150.9 487.5,151.1 488.6,151.4 490.1,151.5 491.6,151.4 492.7,151.1 493.5,150.9 494.2,150.5 494.8,150.2 495.4,149.7 495.8,149.3 496.2,148.8 496.5,148.3 496.7,147.8 496.8,147.2 496.9,146.6 496.9,146.0 496.9,145.3 496.8,144.7 496.6,144.0 496.4,143.2 496.1,142.5 495.8,141.8 495.4,141.0 494.9,140.2 494.4,139.4 493.8,138.5 493.2,137.7 492.4,136.8 491.5,135.9"/>
<polygon fill="rgb(255,197,0)" points="490.1,135.1 488.7,135.9 487.9,136.8 487.2,137.6 486.6,138.4 486.0,139.2 485.6,140.0 485.2,140.7 484.8,141.5 484.5,142.2 484.3,142.9 484.1,143.6 483.9,144.2 483.9,144.8 483.8,145.5 483.9,146.0 484.0,146.6 484.1,147.1 484.3,147.7 484.6,148.1 484.9,148.6 485.4,149.0 485.8,149.4 486.4,149.8 487.1,150.1 487.8,150.3 488.7,150.5 490.1,150.7 491.5,150.5 492.4,150.3 493.1,150.1 493.8,149.8 494.4,149.4 494.8,149.0 495.3,148.6 495.6,148.1 495.9,147.7 496.1,147.1 496.2,146.6 496.3,146.0 496.4,145.5 496.3,144.8 496.3,144.2 496.1,143.6 495.9,142.9 495.7,142.2 495.4,141.5 495.0,140.7 494.6,140.0 494.2,139.2 493.6,138.4 493.0,137.6 492.3,136.8 491.5,135.9"/>
<polygon fill="rgb(255,176,0)" points="490.1,135.2 488.7,136.0 487.9,136.8 487.3,137.6 486.8,138.3 486.3,139.1 485.9,139.8 485.5,140.5 485.2,141.2 484.9,141.9 484.7,142.5 484.6,143.2 484.5,143.8 484.4,144.4 484.4,145.0 484.4,145.5 484.5,146.1 484.7,146.6 484.9,147.1 485.2,147.5 485.5,148.0 485.8,148.4 486.3,148.7 486.8,149.1 487.4,149.4 488.1,149.6 488.9,149.8 490.1,149.9 491.3,149.8 492.1,149.6 492.8,149.4 493.4,149.1 493.9,148.7 494.4,148.4 494.7,148.0 495.0,147.5 495.3,147.1 495.5,146.6 495.7,146.1 495.8,145.5 495.8,145.0 495.8,144.4 495.7,143.8 495.6,143.2 495.5,142.5 495.3,141.9 495.0,141.2 494.7,140.5 494.3,139.8 493.9,139.1 493.4,138.3 492.9,137.6 492.3,136.8 491.5,136.0"/>
<polygon fill="rgb(255,155,0)" points="490.1,135.2 488.8,136.0 488.0,136.8 487.5,137.5 487.0,138.2 486.5,138.9 486.2,139.6 485.9,140.3 485.6,141.0 485.4,141.6 485.2,142.2 485.1,142.8 485.0,143.4 484.9,144.0 485.0,144.5 485.0,145.1 485.1,145.6 485.2,146.1 485.4,146.5 485.7,147.0 486.0,147.4 486.3,147.7 486.7,148.1 487.2,148.4 487.7,148.7 488.3,148.9 489.0,149.1 490.1,149.2 491.2,149.1 491.9,148.9 492.5,148.7 493.0,148.4 493.5,148.1 493.9,147.7 494.2,147.4 494.5,147.0 494.8,146.5 495.0,146.1 495.1,145.6 495.2,145.1 495.2,144.5 495.3,144.0 495.2,143.4 495.1,142.8 495.0,142.2 494.8,141.6 494.6,141.0 494.3,140.3 494.0,139.6 493.7,138.9 493.2,138.2 492.7,137.5 492.2,136.8 491.4,136.0"/>
<polygon fill="rgb(255,135,0)" points="490.1,135.3 488.8,136.1 488.2,136.8 487.6,137.5 487.2,138.2 486.8,138.8 486.5,139.5 486.2,140.1 486.0,140.7 485.8,141.3 485.7,141.9 485.6,142.5 485.5,143.0 485.5,143.6 485.5,144.1 485.6,144.6 485.7,145.1 485.8,145.5 486.0,146.0 486.2,146.4 486.5,146.8 486.8,147.1 487.1,147.5 487.5,147.7 488.0,148.0 488.5,148.2 489.1,148.4 490.1,148.5 491.1,148.4 491.7,148.2 492.2,148.0 492.7,147.7 493.1,147.5 493.4,147.1 493.7,146.8 494.0,146.4 494.2,146.0 494.4,145.5 494.5,145.1 494.6,144.6 494.7,144.1 494.7,143.6 494.7,143.0 494.6,142.5 494.5,141.9 494.4,141.3 494.2,140.7 494.0,140.1 493.7,139.5 493.4,138.8 493.0,138.2 492.6,137.5 492.0,136.8 491.4,136.1"/>
<polygon fill="rgb(255,113,0)" points="490.1,135.4 488.9,136.1 488.3,136.8 487.8,137.4 487.4,138.1 487.1,138.7 486.8,139.3 486.6,139.9 486.4,140.5 486.2,141.1 486.1,141.6 486.0,142.2 486.0,142.7 486.0,143.2 486.0,143.7 486.1,144.1 486.2,144.6 486.3,145.0 486.5,145.4 486.7,145.8 486.9,146.2 487.2,146.5 487.5,146.8 487.8,147.1 488.3,147.3 488.7,147.5 489.3,147.7 490.1,147.8 490.9,147.7 491.5,147.5 491.9,147.3 492.4,147.1 492.7,146.8 493.0,146.5 493.3,146.2 493.5,145.8 493.7,145.4 493.9,145.0 494.0,144.6 494.1,144.1 494.2,143.7 494.2,143.2 494.2,142.7 494.2,142.2 494.1,141.6 494.0,141.1 493.8,140.5 493.6,139.9 493.4,139.3 493.1,138.7 492.8,138.1 492.4,137.4 491.9,136.8 491.3,136.1"/>
<polygon fill="rgb(255,91,0)" points="490.1,135.5 488.9,136.2 488.4,136.8 488.0,137.4 487.6,138.0 487.4,138.6 487.1,139.1 486.9,139.7 486.8,140.3 486.7,140.8 486.6,141.3 486.5,141.8 486.5,142.3 486.5,142.8 486.5,143.2 486.6,143.7 486.7,144.1 486.8,144.5 486.9,144.9 487.1,145.2 487.3,145.6 487.6,145.9 487.8,146.2 488.2,146.4 488.5,146.7 488.9,146.9 489.4,147.0 490.1,147.1 490.8,147.0 491.3,146.9 491.7,146.7 492.0,146.4 492.4,146.2 492.6,145.9 492.9,145.6 493.1,145.2 493.3,144.9 493.4,144.5 493.5,144.1 493.6,143.7 493.7,143.2 493.7,142.8 493.7,142.3 493.7,141.8 493.6,141.3 493.5,140.8 493.4,140.3 493.3,139.7 493.1,139.1 492.8,138.6 492.6,138.0 492.2,137.4 491.8,136.8 491.3,136.2"/>
<polygon fill="rgb(255,69,0)" points="490.1,135.6 489.0,136.2 488.5,136.8 488.2,137.3 487.9,137.9 487.6,138.5 487.5,139.0 487.3,139.5 487.2,140.0 487.1,140.5 487.0,141.0 487.0,141.5 487.0,141.9 487.0,142.4 487.0,142.8 487.1,143.2 487.2,143.6 487.3,143.9 487.4,144.3 487.6,144.6 487.7,145.0 487.9,145.2 488.2,145.5 488.4,145.8 488.7,146.0 489.1,146.2 489.5,146.3 490.1,146.4 490.7,146.3 491.1,146.2 491.5,146.0 491.8,145.8 492.0,145.5 492.3,145.2 492.5,145.0 492.6,144.6 492.8,144.3 492.9,143.9 493.0,143.6 493.1,143.2 493.2,142.8 493.2,142.4 493.2,141.9 493.2,141.5 493.2,141.0 493.1,140.5 493.0,140.0 492.9,139.5 492.7,139.0 492.6,138.5 492.3,137.9 492.0,137.3 491.7,136.8 491.2,136.2"/>
<polygon fill="rgb(255,47,0)" points="490.1,135.7 489.1,136.2 488.7,136.8 488.4,137.3 488.1,137.8 487.9,138.3 487.8,138.8 487.7,139.3 487.6,139.8 487.5,140.2 487.4,140.7 487.4,141.1 487.4,141.5 487.4,141.9 487.5,142.3 487.5,142.7 487.6,143.1 487.7,143.4 487.8,143.7 488.0,144.1 488.1,144.4 488.3,144.6 488.5,144.9 488.7,145.1 489.0,145.3 489.3,145.5 489.6,145.6 490.1,145.7 490.6,145.6 490.9,145.5 491.2,145.3 491.5,145.1 491.7,144.9 491.9,144.6 492.1,144.4 492.2,144.1 492.4,143.7 492.5,143.4 492.6,143.1 492.7,142.7 492.7,142.3 492.8,141.9 492.8,141.5 492.8,141.1 492.8,140.7 492.7,140.2 492.6,139.8 492.5,139.3 492.4,138.8 492.3,138.3 492.1,137.8 491.8,137.3 491.5,136.8 491.1,136.2"/>
<polygon fill="rgb(255,32,0)" points="490.1,136.1 489.2,136.6 488.9,137.0 488.6,137.5 488.4,138.0 488.2,138.4 488.1,138.8 488.0,139.3 487.9,139.7 487.9,140.1 487.8,140.5 487.8,140.8 487.8,141.2 487.8,141.6 487.9,141.9 487.9,142.3 488.0,142.6 488.1,142.9 488.2,143.2 488.3,143.4 488.4,143.7 488.6,143.9 488.8,144.2 488.9,144.4 489.2,144.5 489.4,144.7 489.7,144.8 490.1,144.9 490.5,144.8 490.8,144.7 491.0,144.5 491.3,144.4 491.4,144.2 491.6,143.9 491.8,143.7 491.9,143.4 492.0,143.2 492.1,142.9 492.2,142.6 492.3,142.3 492.3,141.9 492.4,141.6 492.4,141.2 492.4,140.8 492.4,140.5 492.3,140.1 492.3,139.7 492.2,139.3 492.1,138.8 492.0,138.4 491.8,138.0 491.6,137.5 491.3,137.0 491.0,136.6"/>
<polygon fill="rgb(255,17,0)" points="490.1,136.5 489.4,136.9 489.1,137.3 488.8,137.7 488.7,138.1 488.5,138.5 488.4,138.9 488.4,139.2 488.3,139.6 488.3,139.9 488.2,140.3 488.2,140.6 488.2,140.9 488.2,141.2 488.3,141.5 488.3,141.8 488.4,142.1 488.5,142.3 488.5,142.6 488.6,142.8 488.7,143.0 488.9,143.2 489.0,143.4 489.2,143.6 489.3,143.7 489.5,143.9 489.8,144.0 490.1,144.0 490.4,144.0 490.7,143.9 490.9,143.7 491.0,143.6 491.2,143.4 491.3,143.2 491.5,143.0 491.6,142.8 491.7,142.6 491.7,142.3 491.8,142.1 491.9,141.8 491.9,141.5 492.0,141.2 492.0,140.9 492.0,140.6 492.0,140.3 491.9,139.9 491.9,139.6 491.8,139.2 491.8,138.9 491.7,138.5 491.5,138.1 491.4,137.7 491.1,137.3 490.8,136.9"/>
<polygon fill="rgb(255,10,0)" points="490.1,136.9 489.5,137.2 489.3,137.6 489.1,137.9 489.0,138.2 488.9,138.6 488.8,138.9 488.7,139.2 488.7,139.5 488.7,139.8 488.6,140.1 488.6,140.3 488.6,140.6 488.7,140.8 488.7,141.1 488.7,141.3 488.8,141.6 488.8,141.8 488.9,142.0 489.0,142.2 489.1,142.4 489.2,142.5 489.3,142.7 489.4,142.8 489.5,143.0 489.7,143.1 489.8,143.2 490.1,143.2 490.4,143.2 490.5,143.1 490.7,143.0 490.8,142.8 490.9,142.7 491.0,142.5 491.1,142.4 491.2,142.2 491.3,142.0 491.4,141.8 491.4,141.6 491.5,141.3 491.5,141.1 491.5,140.8 491.6,140.6 491.6,140.3 491.6,140.1 491.5,139.8 491.5,139.5 491.5,139.2 491.4,138.9 491.3,138.6 491.2,138.2 491.1,137.9 490.9,137.6 490.7,137.2"/>
</g></g>
<g fill="none" stroke="#505050" stroke-width="0.8">
<path d="M388.60 4.60 V251.00 H517.50 V4.60 Z"/>
</g>
<path d="M387.00 127.25 H517.50" stroke="#111" stroke-width="1.1" fill="none"/>
<path d="M388.60 16.90 h-1.6 M517.50 16.90 h-1.6 M388.60 41.50 h-1.6 M517.50 41.50 h-1.6 M388.60 66.20 h-1.6 M517.50 66.20 h-1.6 M388.60 90.80 h-1.6 M517.50 90.80 h-1.6 M388.60 115.50 h-1.6 M517.50 115.50 h-1.6 M388.60 127.25 h-1.7 M388.60 147.88 h-1.0 M388.60 168.50 h-1.7 M388.60 189.12 h-1.0 M388.60 209.75 h-1.7 M388.60 230.38 h-1.0 M388.60 251.00 h-1.7 M388.60 251.00 v1.8 M414.38 251.00 v1.8 M414.38 127.25 v2.0 M440.16 251.00 v1.8 M440.16 127.25 v2.0 M465.94 251.00 v1.8 M465.94 127.25 v2.0 M491.72 251.00 v1.8 M491.72 127.25 v2.0 M517.50 251.00 v1.8" stroke="#222" stroke-width="0.8" fill="none"/>
<g font-size="4.8" font-weight="bold" fill="#111" text-anchor="end">
<text x="386.00" y="18.40">0.4</text>
<text x="386.00" y="43.00">0.2</text>
<text x="386.00" y="67.70">0.0</text>
<text x="386.00" y="92.30">−0.2</text>
<text x="386.00" y="117.00">−0.4</text>
<text x="384.40" y="128.85" font-size="5.0">180</text>
<text x="384.40" y="170.10" font-size="5.0">120</text>
<text x="384.40" y="211.35" font-size="5.0">60</text>
<text x="384.40" y="252.60" font-size="5.0">0</text>
</g>
<g font-size="5.4" font-weight="bold" fill="#111" text-anchor="middle">
<text x="388.60" y="259.70">3.0</text>
<text x="414.38" y="259.70">3.1</text>
<text x="440.16" y="259.70">3.2</text>
<text x="465.94" y="259.70">3.3</text>
<text x="491.72" y="259.70">3.4</text>
<text x="517.50" y="259.70">3.5</text>
</g>
<text font-size="6.8" font-weight="bold" fill="#1a1a1a" text-anchor="middle" x="456.85" y="268.10">Frequency (GHz)</text>
<text font-size="6.85" font-weight="bold" fill="#1a1a1a" text-anchor="middle" transform="translate(377.20 69.90) rotate(-90)">Scattering coefficients</text>
<text font-size="7.0" font-weight="bold" fill="#1a1a1a" text-anchor="middle" transform="translate(375.60 192.80) rotate(-90)">Scattering angle (in degs)</text>
<text font-size="10.7" fill="#111" text-anchor="middle" x="451.50" y="280.00">(c)</text>
<polyline fill="none" stroke="#000" stroke-width="1.05" points="388.60,59.50 389.60,59.46 390.60,59.43 391.60,59.39 392.60,59.35 393.60,59.31 394.60,59.27 395.60,59.23 396.60,59.19 397.60,59.15 398.60,59.11 399.60,59.07 400.60,59.02 401.60,58.98 402.60,58.94 403.60,58.89 404.60,58.85 405.60,58.80 406.60,58.75 407.60,58.71 408.60,58.66 409.60,58.61 410.60,58.56 411.60,58.51 412.60,58.46 413.60,58.41 414.60,58.36 415.60,58.31 416.60,58.26 417.60,58.21 418.60,58.15 419.60,58.10 420.60,58.05 421.60,57.99 422.60,57.94 423.60,57.88 424.60,57.83 425.60,57.77 426.60,57.72 427.60,57.66 428.60,57.60 429.60,57.55 430.60,57.49 431.60,57.43 432.60,57.37 433.60,57.31 434.60,57.25 435.60,57.19 436.60,57.13 437.60,57.07 438.60,57.01 439.60,56.95 440.60,56.89 441.60,56.83 442.60,56.77 443.60,56.70 444.60,56.64 445.60,56.58 446.60,56.52 447.60,56.45 448.60,56.39 449.60,56.32 450.60,56.26 451.60,56.19 452.60,56.13 453.60,56.06 454.60,55.99 455.60,55.92 456.60,55.85 457.60,55.78 458.60,55.71 459.60,55.64 460.60,55.56 461.60,55.49 462.60,55.41 463.60,55.34 464.60,55.26 465.60,55.18 466.60,55.10 467.60,55.03 468.60,54.95 469.60,54.86 470.60,54.78 471.60,54.70 472.60,54.62 473.60,54.54 474.60,54.45 475.60,54.37 476.60,54.28 477.60,54.20 478.60,54.11 479.60,54.03 480.60,53.94 481.60,53.86 482.60,53.77 483.60,53.68 484.60,53.59 485.60,53.50 486.60,53.42 487.60,53.33 488.60,53.24 489.60,53.15 490.60,53.06 491.60,52.97 492.60,52.88 493.60,52.79 494.60,52.70 495.60,52.61 496.60,52.51 497.60,52.42 498.60,52.32 499.60,52.23 500.60,52.13 501.60,52.03 502.60,51.94 503.60,51.84 504.60,51.74 505.60,51.64 506.60,51.54 507.60,51.43 508.60,51.33 509.60,51.23 510.60,51.13 511.60,51.02 512.60,50.92 513.60,50.81 514.60,50.71 515.60,50.60 516.60,50.50 517.50,50.50"/>
<polyline fill="none" stroke="#ff0808" stroke-width="1.05" points="388.60,64.31 389.60,64.35 390.60,64.38 391.60,64.39 392.60,64.39 393.60,64.38 394.60,64.37 395.60,64.34 396.60,64.32 397.60,64.28 398.60,64.25 399.60,64.21 400.60,64.17 401.60,64.13 402.60,64.09 403.60,64.04 404.60,64.00 405.60,63.96 406.60,63.91 407.60,63.87 408.60,63.83 409.60,63.79 410.60,63.75 411.60,63.71 412.60,63.67 413.60,63.63 414.60,63.59 415.60,63.55 416.60,63.52 417.60,63.48 418.60,63.44 419.60,63.40 420.60,63.36 421.60,63.32 422.60,63.28 423.60,63.23 424.60,63.19 425.60,63.14 426.60,63.10 427.60,63.04 428.60,62.99 429.60,62.94 430.60,62.88 431.60,62.82 432.60,62.76 433.60,62.69 434.60,62.62 435.60,62.55 436.60,62.47 437.60,62.39 438.60,62.31 439.60,62.22 440.60,62.13 441.60,62.04 442.60,61.94 443.60,61.84 444.60,61.74 445.60,61.63 446.60,61.52 447.60,61.40 448.60,61.29 449.60,61.16 450.60,61.04 451.60,60.91 452.60,60.78 453.60,60.64 454.60,60.50 455.60,60.36 456.60,60.22 457.60,60.07 458.60,59.92 459.60,59.77 460.60,59.61 461.60,59.45 462.60,59.29 463.60,59.12 464.60,58.95 465.60,58.78 466.60,58.61 467.60,58.43 468.60,58.25 469.60,58.07 470.60,57.88 471.60,57.69 472.60,57.50 473.60,57.30 474.60,57.10 475.60,56.90 476.60,56.69 477.60,56.48 478.60,56.27 479.60,56.05 480.60,55.82 481.60,55.59 482.60,55.36 483.60,55.12 484.60,54.88 485.60,54.63 486.60,54.37 487.60,54.11 488.60,53.84 489.60,53.56 490.60,53.28 491.60,52.99 492.60,52.70 493.60,52.39 494.60,52.08 495.60,51.76 496.60,51.43 497.60,51.10 498.60,50.75 499.60,50.40 500.60,50.04 501.60,49.67 502.60,49.29 503.60,48.91 504.60,48.51 505.60,48.11 506.60,47.70 507.60,47.29 508.60,46.87 509.60,46.44 510.60,46.00 511.60,45.57 512.60,45.12 513.60,44.68 514.60,44.23 515.60,43.79 516.60,43.34 517.50,42.95"/>
<polyline fill="none" stroke="#000" stroke-width="1.1" stroke-dasharray="3.6 4" points="388.60,94.10 389.60,94.19 390.60,94.29 391.60,94.39 392.60,94.48 393.60,94.58 394.60,94.67 395.60,94.77 396.60,94.86 397.60,94.96 398.60,95.05 399.60,95.15 400.60,95.24 401.60,95.34 402.60,95.43 403.60,95.53 404.60,95.62 405.60,95.72 406.60,95.82 407.60,95.91 408.60,96.01 409.60,96.10 410.60,96.20 411.60,96.30 412.60,96.39 413.60,96.49 414.60,96.58 415.60,96.68 416.60,96.78 417.60,96.87 418.60,96.97 419.60,97.06 420.60,97.16 421.60,97.26 422.60,97.35 423.60,97.45 424.60,97.55 425.60,97.64 426.60,97.74 427.60,97.84 428.60,97.93 429.60,98.03 430.60,98.13 431.60,98.22 432.60,98.32 433.60,98.42 434.60,98.51 435.60,98.61 436.60,98.71 437.60,98.80 438.60,98.90 439.60,99.00 440.60,99.10 441.60,99.19 442.60,99.29 443.60,99.39 444.60,99.49 445.60,99.58 446.60,99.68 447.60,99.78 448.60,99.88 449.60,99.97 450.60,100.07 451.60,100.17 452.60,100.27 453.60,100.36 454.60,100.46 455.60,100.56 456.60,100.66 457.60,100.75 458.60,100.85 459.60,100.95 460.60,101.05 461.60,101.15 462.60,101.24 463.60,101.34 464.60,101.44 465.60,101.54 466.60,101.64 467.60,101.74 468.60,101.83 469.60,101.93 470.60,102.03 471.60,102.13 472.60,102.23 473.60,102.33 474.60,102.43 475.60,102.52 476.60,102.62 477.60,102.72 478.60,102.82 479.60,102.92 480.60,103.02 481.60,103.12 482.60,103.22 483.60,103.32 484.60,103.41 485.60,103.51 486.60,103.61 487.60,103.71 488.60,103.81 489.60,103.91 490.60,104.01 491.60,104.11 492.60,104.21 493.60,104.31 494.60,104.41 495.60,104.51 496.60,104.61 497.60,104.71 498.60,104.81 499.60,104.91 500.60,105.01 501.60,105.11 502.60,105.21 503.60,105.31 504.60,105.41 505.60,105.51 506.60,105.61 507.60,105.71 508.60,105.81 509.60,105.91 510.60,106.01 511.60,106.11 512.60,106.21 513.60,106.31 514.60,106.41 515.60,106.51 516.60,106.61 517.50,106.61"/>
<polyline fill="none" stroke="#ff0808" stroke-width="1.1" stroke-dasharray="3.6 4" points="388.60,80.11 389.60,80.23 390.60,80.36 391.60,80.50 392.60,80.63 393.60,80.77 394.60,80.92 395.60,81.06 396.60,81.21 397.60,81.35 398.60,81.50 399.60,81.65 400.60,81.80 401.60,81.95 402.60,82.10 403.60,82.25 404.60,82.40 405.60,82.55 406.60,82.70 407.60,82.86 408.60,83.01 409.60,83.16 410.60,83.31 411.60,83.47 412.60,83.62 413.60,83.78 414.60,83.93 415.60,84.09 416.60,84.25 417.60,84.41 418.60,84.57 419.60,84.74 420.60,84.90 421.60,85.07 422.60,85.24 423.60,85.41 424.60,85.58 425.60,85.76 426.60,85.94 427.60,86.12 428.60,86.31 429.60,86.49 430.60,86.68 431.60,86.88 432.60,87.07 433.60,87.27 434.60,87.47 435.60,87.68 436.60,87.89 437.60,88.10 438.60,88.31 439.60,88.53 440.60,88.75 441.60,88.98 442.60,89.21 443.60,89.44 444.60,89.67 445.60,89.91 446.60,90.14 447.60,90.39 448.60,90.63 449.60,90.88 450.60,91.13 451.60,91.38 452.60,91.64 453.60,91.90 454.60,92.16 455.60,92.42 456.60,92.69 457.60,92.96 458.60,93.23 459.60,93.50 460.60,93.78 461.60,94.06 462.60,94.34 463.60,94.62 464.60,94.90 465.60,95.19 466.60,95.48 467.60,95.77 468.60,96.06 469.60,96.36 470.60,96.65 471.60,96.95 472.60,97.26 473.60,97.56 474.60,97.87 475.60,98.18 476.60,98.49 477.60,98.80 478.60,99.12 479.60,99.44 480.60,99.76 481.60,100.08 482.60,100.41 483.60,100.74 484.60,101.07 485.60,101.41 486.60,101.75 487.60,102.09 488.60,102.44 489.60,102.79 490.60,103.15 491.60,103.50 492.60,103.87 493.60,104.23 494.60,104.60 495.60,104.97 496.60,105.35 497.60,105.73 498.60,106.12 499.60,106.51 500.60,106.90 501.60,107.30 502.60,107.70 503.60,108.10 504.60,108.51 505.60,108.92 506.60,109.33 507.60,109.75 508.60,110.17 509.60,110.58 510.60,111.00 511.60,111.42 512.60,111.84 513.60,112.26 514.60,112.67 515.60,113.08 516.60,113.49 517.50,113.85"/>
<circle cx="492.40" cy="52.90" r="1.35" fill="#1e96e6"/>
<circle cx="493.30" cy="104.20" r="1.35" fill="#ff8000"/>
<path d="M492.70 109.70 h2.6 V120.50 h1.1 L494.00 123.90 L491.60 120.50 h1.1 Z" fill="#fde0d2"/>
<path d="M411.60 17.50 h15.3" stroke="#000" stroke-width="1.05"/>
<path d="M448.80 17.50 h15.3" stroke="#ff0808" stroke-width="1.05"/>
<path d="M411.60 28.20 h15.3" stroke="#000" stroke-width="1.1" stroke-dasharray="3.4 4.8"/>
<path d="M449.30 28.20 h15.3" stroke="#ff0808" stroke-width="1.1" stroke-dasharray="3.4 4.8"/>
<g font-size="5.2" font-weight="bold" fill="#222">
<text x="428.00" y="19.10">Real(a<tspan font-size="3.4" dy="1.0">1</tspan><tspan dy="-1.0">)</tspan></text>
<text x="465.10" y="19.10">Real(b<tspan font-size="3.4" dy="1.0">1</tspan><tspan dy="-1.0">)</tspan></text>
<text x="428.00" y="29.80">Imag(a<tspan font-size="3.4" dy="1.0">1</tspan><tspan dy="-1.0">)</tspan></text>
<text x="465.10" y="29.80">Imag(b<tspan font-size="3.4" dy="1.0">1</tspan><tspan dy="-1.0">)</tspan></text>
</g>
<rect x="523.20" y="153.3" width="14" height="84.3" fill="url(#cb)"/>
<g font-size="4.4" font-weight="bold" fill="#000">
<text x="544.20" y="154.90" text-anchor="end">1.5</text>
<text x="544.20" y="171.80" text-anchor="end">1.0</text>
<text x="544.20" y="188.70" text-anchor="end">0.5</text>
<text x="544.20" y="205.60" text-anchor="end">0.0</text>
<text x="544.20" y="222.50" text-anchor="end">−0.5</text>
<text x="544.20" y="239.40" text-anchor="end">−1.0</text>
</g>
<text x="521.90" y="149.0" font-size="6.6" font-weight="bold" fill="#222">Δ<tspan font-size="3.3" dy="1.9" fill="#333">SHE</tspan><tspan dy="-1.9">/</tspan><tspan font-style="italic">λ</tspan></text>
</g>
</svg></body></html>
